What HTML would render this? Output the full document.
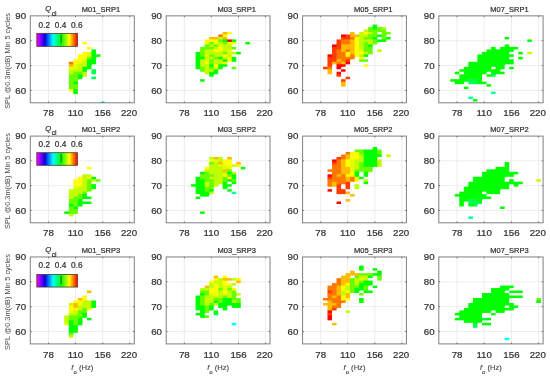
<!DOCTYPE html><html><head><meta charset="utf-8"><title>fig</title><style>html,body{margin:0;padding:0;background:#fff}svg{display:block}text{font-family:"Liberation Sans",Arial,sans-serif;fill:#303030;stroke:#303030;stroke-width:0.22px}</style></head><body>
<svg width="550" height="378" viewBox="0 0 550 378">
<defs><linearGradient id="cb" x1="0" x2="1" y1="0" y2="0">
<stop offset="0.00" stop-color="#ff00ff"/>
<stop offset="0.10" stop-color="#7f00ff"/>
<stop offset="0.20" stop-color="#0000ff"/>
<stop offset="0.30" stop-color="#007fff"/>
<stop offset="0.40" stop-color="#00ffff"/>
<stop offset="0.50" stop-color="#00ff7f"/>
<stop offset="0.60" stop-color="#00ff00"/>
<stop offset="0.70" stop-color="#7fff00"/>
<stop offset="0.80" stop-color="#ffff00"/>
<stop offset="0.90" stop-color="#ff7f00"/>
<stop offset="1.00" stop-color="#ff0000"/>
</linearGradient></defs>
<rect width="550" height="378" fill="#fff"/>
<g>
<line x1="48.48" y1="15.85" x2="48.48" y2="102.80" stroke="#e5e5e5" stroke-width="0.7"/>
<line x1="75.52" y1="15.85" x2="75.52" y2="102.80" stroke="#e5e5e5" stroke-width="0.7"/>
<line x1="102.74" y1="15.85" x2="102.74" y2="102.80" stroke="#e5e5e5" stroke-width="0.7"/>
<line x1="129.78" y1="15.85" x2="129.78" y2="102.80" stroke="#e5e5e5" stroke-width="0.7"/>
<line x1="30.30" y1="40.69" x2="134.30" y2="40.69" stroke="#e5e5e5" stroke-width="0.7"/>
<line x1="30.30" y1="65.54" x2="134.30" y2="65.54" stroke="#e5e5e5" stroke-width="0.7"/>
<line x1="30.30" y1="90.38" x2="134.30" y2="90.38" stroke="#e5e5e5" stroke-width="0.7"/>
<g shape-rendering="auto">
<rect x="82.40" y="41.94" width="4.52" height="2.48" fill="#ffff00"/>
<rect x="86.92" y="46.90" width="4.52" height="2.48" fill="#ffff00"/>
<rect x="91.44" y="49.39" width="4.52" height="3.08" fill="#00ff00"/>
<rect x="82.40" y="51.87" width="5.12" height="3.08" fill="#ffff00"/>
<rect x="86.92" y="51.87" width="5.12" height="3.08" fill="#e1ff00"/>
<rect x="91.44" y="51.87" width="4.52" height="3.08" fill="#00ff00"/>
<rect x="77.88" y="54.36" width="5.12" height="3.08" fill="#ffff00"/>
<rect x="82.40" y="54.36" width="5.12" height="3.08" fill="#ffff00"/>
<rect x="86.92" y="54.36" width="5.12" height="3.08" fill="#e1ff00"/>
<rect x="91.44" y="54.36" width="5.12" height="3.08" fill="#00ff00"/>
<rect x="95.97" y="54.36" width="4.52" height="2.48" fill="#00ff00"/>
<rect x="77.88" y="56.84" width="5.12" height="3.08" fill="#ffff00"/>
<rect x="82.40" y="56.84" width="5.12" height="3.08" fill="#ffff00"/>
<rect x="86.92" y="56.84" width="5.12" height="3.08" fill="#65ff00"/>
<rect x="91.44" y="56.84" width="4.52" height="3.08" fill="#00ff00"/>
<rect x="73.36" y="59.33" width="5.12" height="3.08" fill="#ffff00"/>
<rect x="77.88" y="59.33" width="5.12" height="3.08" fill="#ffff00"/>
<rect x="82.40" y="59.33" width="5.12" height="3.08" fill="#e1ff00"/>
<rect x="86.92" y="59.33" width="5.12" height="3.08" fill="#00ff00"/>
<rect x="91.44" y="59.33" width="4.52" height="3.08" fill="#00ff00"/>
<rect x="68.83" y="61.81" width="5.12" height="3.08" fill="#ff7700"/>
<rect x="73.36" y="61.81" width="5.12" height="3.08" fill="#ffff00"/>
<rect x="77.88" y="61.81" width="5.12" height="3.08" fill="#e1ff00"/>
<rect x="82.40" y="61.81" width="5.12" height="3.08" fill="#bfff00"/>
<rect x="86.92" y="61.81" width="5.12" height="3.08" fill="#00ff00"/>
<rect x="91.44" y="61.81" width="4.52" height="2.48" fill="#00ff00"/>
<rect x="68.83" y="64.29" width="5.12" height="3.08" fill="#ffbb00"/>
<rect x="73.36" y="64.29" width="5.12" height="3.08" fill="#e1ff00"/>
<rect x="77.88" y="64.29" width="5.12" height="3.08" fill="#bfff00"/>
<rect x="82.40" y="64.29" width="5.12" height="3.08" fill="#bfff00"/>
<rect x="86.92" y="64.29" width="4.52" height="3.08" fill="#00ff00"/>
<rect x="68.83" y="66.78" width="5.12" height="3.08" fill="#e1ff00"/>
<rect x="73.36" y="66.78" width="5.12" height="3.08" fill="#e1ff00"/>
<rect x="77.88" y="66.78" width="5.12" height="3.08" fill="#bfff00"/>
<rect x="82.40" y="66.78" width="5.12" height="3.08" fill="#00ff00"/>
<rect x="86.92" y="66.78" width="4.52" height="2.48" fill="#00ff00"/>
<rect x="68.83" y="69.26" width="5.12" height="3.08" fill="#bfff00"/>
<rect x="73.36" y="69.26" width="5.12" height="3.08" fill="#bfff00"/>
<rect x="77.88" y="69.26" width="5.12" height="3.08" fill="#bfff00"/>
<rect x="82.40" y="69.26" width="4.52" height="3.08" fill="#00ff00"/>
<rect x="91.44" y="69.26" width="4.52" height="3.08" fill="#00ff4c"/>
<rect x="68.83" y="71.75" width="5.12" height="3.08" fill="#bfff00"/>
<rect x="73.36" y="71.75" width="5.12" height="3.08" fill="#65ff00"/>
<rect x="77.88" y="71.75" width="5.12" height="3.08" fill="#65ff00"/>
<rect x="82.40" y="71.75" width="4.52" height="3.08" fill="#bfff00"/>
<rect x="91.44" y="71.75" width="4.52" height="2.48" fill="#00ff4c"/>
<rect x="68.83" y="74.23" width="5.12" height="3.08" fill="#65ff00"/>
<rect x="73.36" y="74.23" width="5.12" height="3.08" fill="#65ff00"/>
<rect x="77.88" y="74.23" width="5.12" height="3.08" fill="#00ff00"/>
<rect x="82.40" y="74.23" width="4.52" height="2.48" fill="#bfff00"/>
<rect x="68.83" y="76.72" width="5.12" height="3.08" fill="#65ff00"/>
<rect x="73.36" y="76.72" width="5.12" height="3.08" fill="#65ff00"/>
<rect x="77.88" y="76.72" width="4.52" height="2.48" fill="#00ff00"/>
<rect x="91.44" y="76.72" width="4.52" height="2.48" fill="#00ff4c"/>
<rect x="68.83" y="79.20" width="5.12" height="3.08" fill="#65ff00"/>
<rect x="73.36" y="79.20" width="4.52" height="3.08" fill="#65ff00"/>
<rect x="68.83" y="81.68" width="5.12" height="3.08" fill="#65ff00"/>
<rect x="73.36" y="81.68" width="4.52" height="3.08" fill="#00ff00"/>
<rect x="68.83" y="84.17" width="5.12" height="3.08" fill="#65ff00"/>
<rect x="73.36" y="84.17" width="4.52" height="3.08" fill="#65ff00"/>
<rect x="68.83" y="86.65" width="5.12" height="3.08" fill="#65ff00"/>
<rect x="73.36" y="86.65" width="4.52" height="3.08" fill="#65ff00"/>
<rect x="68.83" y="89.14" width="5.12" height="2.48" fill="#ffff00"/>
<rect x="73.36" y="89.14" width="4.52" height="3.08" fill="#00ff00"/>
<rect x="73.36" y="91.62" width="4.52" height="2.48" fill="#00ff00"/>
<rect x="100.49" y="101.56" width="4.52" height="1.24" fill="#00ffff"/>
</g>
<rect x="30.30" y="15.85" width="104.00" height="86.95" fill="none" stroke="#808080" stroke-width="1.0"/>
<line x1="48.48" y1="102.80" x2="48.48" y2="101.50" stroke="#444" stroke-width="0.7"/>
<line x1="48.48" y1="15.85" x2="48.48" y2="17.15" stroke="#444" stroke-width="0.7"/>
<text x="48.48" y="116.40" font-size="9.7" text-anchor="middle">78</text>
<line x1="75.52" y1="102.80" x2="75.52" y2="101.50" stroke="#444" stroke-width="0.7"/>
<line x1="75.52" y1="15.85" x2="75.52" y2="17.15" stroke="#444" stroke-width="0.7"/>
<text x="75.52" y="116.40" font-size="9.7" text-anchor="middle">110</text>
<line x1="102.74" y1="102.80" x2="102.74" y2="101.50" stroke="#444" stroke-width="0.7"/>
<line x1="102.74" y1="15.85" x2="102.74" y2="17.15" stroke="#444" stroke-width="0.7"/>
<text x="102.74" y="116.40" font-size="9.7" text-anchor="middle">156</text>
<line x1="129.78" y1="102.80" x2="129.78" y2="101.50" stroke="#444" stroke-width="0.7"/>
<line x1="129.78" y1="15.85" x2="129.78" y2="17.15" stroke="#444" stroke-width="0.7"/>
<text x="128.98" y="116.40" font-size="9.7" text-anchor="middle">220</text>
<text x="26.10" y="19.10" font-size="9.7" text-anchor="end">90</text>
<line x1="30.30" y1="40.69" x2="31.60" y2="40.69" stroke="#444" stroke-width="0.7"/>
<line x1="134.30" y1="40.69" x2="133.00" y2="40.69" stroke="#444" stroke-width="0.7"/>
<text x="26.10" y="43.94" font-size="9.7" text-anchor="end">80</text>
<line x1="30.30" y1="65.54" x2="31.60" y2="65.54" stroke="#444" stroke-width="0.7"/>
<line x1="134.30" y1="65.54" x2="133.00" y2="65.54" stroke="#444" stroke-width="0.7"/>
<text x="26.10" y="68.79" font-size="9.7" text-anchor="end">70</text>
<line x1="30.30" y1="90.38" x2="31.60" y2="90.38" stroke="#444" stroke-width="0.7"/>
<line x1="134.30" y1="90.38" x2="133.00" y2="90.38" stroke="#444" stroke-width="0.7"/>
<text x="26.10" y="93.63" font-size="9.7" text-anchor="end">60</text>
<text x="100.90" y="12.00" font-size="7.5" text-anchor="middle">M01_SRP1</text>
<rect x="36.80" y="33.35" width="40.60" height="13.00" fill="url(#cb)" stroke="#4a3a2a" stroke-width="0.8"/>
<line x1="44.92" y1="34.85" x2="44.92" y2="42.85" stroke="#222" stroke-width="0.7"/>
<text x="44.32" y="27.55" font-size="8.2" text-anchor="middle">0.2</text>
<line x1="61.16" y1="34.85" x2="61.16" y2="42.85" stroke="#222" stroke-width="0.7"/>
<text x="60.56" y="27.55" font-size="8.2" text-anchor="middle">0.4</text>
<text x="76.80" y="27.55" font-size="8.2" text-anchor="middle">0.6</text>
<text x="45.30" y="11.00" font-size="7.7" font-style="italic">Q<tspan font-size="6.8" font-style="normal" dx="0.4" dy="5.0">ci</tspan></text>
<text transform="translate(10.20 60.93) rotate(-90)" font-size="7.35" text-anchor="middle" style="fill:#4a4a4a;stroke:none">SPL @0.3m(dB) Min 5 cycles</text>
</g>
<g>
<line x1="184.34" y1="15.85" x2="184.34" y2="102.80" stroke="#e5e5e5" stroke-width="0.7"/>
<line x1="211.33" y1="15.85" x2="211.33" y2="102.80" stroke="#e5e5e5" stroke-width="0.7"/>
<line x1="238.50" y1="15.85" x2="238.50" y2="102.80" stroke="#e5e5e5" stroke-width="0.7"/>
<line x1="265.49" y1="15.85" x2="265.49" y2="102.80" stroke="#e5e5e5" stroke-width="0.7"/>
<line x1="166.20" y1="40.69" x2="270.00" y2="40.69" stroke="#e5e5e5" stroke-width="0.7"/>
<line x1="166.20" y1="65.54" x2="270.00" y2="65.54" stroke="#e5e5e5" stroke-width="0.7"/>
<line x1="166.20" y1="90.38" x2="270.00" y2="90.38" stroke="#e5e5e5" stroke-width="0.7"/>
<g shape-rendering="auto">
<rect x="222.71" y="32.00" width="5.11" height="3.08" fill="#ffbb00"/>
<rect x="227.23" y="32.00" width="4.51" height="2.48" fill="#ffff00"/>
<rect x="218.20" y="34.48" width="5.11" height="3.08" fill="#ff7700"/>
<rect x="222.71" y="34.48" width="4.51" height="3.08" fill="#ffff00"/>
<rect x="209.17" y="36.97" width="5.11" height="3.08" fill="#ffbb00"/>
<rect x="213.69" y="36.97" width="5.11" height="3.08" fill="#ffbb00"/>
<rect x="218.20" y="36.97" width="5.11" height="3.08" fill="#bfff00"/>
<rect x="222.71" y="36.97" width="4.51" height="3.08" fill="#ffbb00"/>
<rect x="204.66" y="39.45" width="5.11" height="3.08" fill="#ffff00"/>
<rect x="209.17" y="39.45" width="5.11" height="3.08" fill="#ffff00"/>
<rect x="213.69" y="39.45" width="5.11" height="3.08" fill="#ffff00"/>
<rect x="218.20" y="39.45" width="5.11" height="3.08" fill="#65ff00"/>
<rect x="222.71" y="39.45" width="5.11" height="3.08" fill="#00ff00"/>
<rect x="227.23" y="39.45" width="5.11" height="3.08" fill="#ff0000"/>
<rect x="231.74" y="39.45" width="4.51" height="3.08" fill="#00ff00"/>
<rect x="204.66" y="41.94" width="5.11" height="3.08" fill="#ffff00"/>
<rect x="209.17" y="41.94" width="5.11" height="3.08" fill="#65ff00"/>
<rect x="213.69" y="41.94" width="5.11" height="3.08" fill="#ffff00"/>
<rect x="218.20" y="41.94" width="5.11" height="3.08" fill="#bfff00"/>
<rect x="222.71" y="41.94" width="5.11" height="3.08" fill="#65ff00"/>
<rect x="227.23" y="41.94" width="5.11" height="3.08" fill="#ffff00"/>
<rect x="231.74" y="41.94" width="4.51" height="2.48" fill="#ffff00"/>
<rect x="245.28" y="41.94" width="4.51" height="2.48" fill="#00ff00"/>
<rect x="204.66" y="44.42" width="5.11" height="3.08" fill="#65ff00"/>
<rect x="209.17" y="44.42" width="5.11" height="3.08" fill="#bfff00"/>
<rect x="213.69" y="44.42" width="5.11" height="3.08" fill="#65ff00"/>
<rect x="218.20" y="44.42" width="5.11" height="3.08" fill="#e1ff00"/>
<rect x="222.71" y="44.42" width="5.11" height="3.08" fill="#bfff00"/>
<rect x="227.23" y="44.42" width="4.51" height="3.08" fill="#bfff00"/>
<rect x="200.15" y="46.90" width="5.11" height="3.08" fill="#65ff00"/>
<rect x="204.66" y="46.90" width="5.11" height="3.08" fill="#65ff00"/>
<rect x="209.17" y="46.90" width="5.11" height="3.08" fill="#65ff00"/>
<rect x="213.69" y="46.90" width="5.11" height="3.08" fill="#bfff00"/>
<rect x="218.20" y="46.90" width="5.11" height="3.08" fill="#ffff00"/>
<rect x="222.71" y="46.90" width="5.11" height="3.08" fill="#bfff00"/>
<rect x="227.23" y="46.90" width="5.11" height="3.08" fill="#bfff00"/>
<rect x="231.74" y="46.90" width="4.51" height="2.48" fill="#65ff00"/>
<rect x="200.15" y="49.39" width="5.11" height="3.08" fill="#65ff00"/>
<rect x="204.66" y="49.39" width="5.11" height="3.08" fill="#bfff00"/>
<rect x="209.17" y="49.39" width="5.11" height="3.08" fill="#bfff00"/>
<rect x="213.69" y="49.39" width="5.11" height="3.08" fill="#ffff00"/>
<rect x="218.20" y="49.39" width="5.11" height="3.08" fill="#ffff00"/>
<rect x="222.71" y="49.39" width="5.11" height="3.08" fill="#bfff00"/>
<rect x="227.23" y="49.39" width="4.51" height="3.08" fill="#e1ff00"/>
<rect x="195.63" y="51.87" width="5.11" height="3.08" fill="#00ff00"/>
<rect x="200.15" y="51.87" width="5.11" height="3.08" fill="#65ff00"/>
<rect x="204.66" y="51.87" width="5.11" height="3.08" fill="#bfff00"/>
<rect x="209.17" y="51.87" width="5.11" height="3.08" fill="#bfff00"/>
<rect x="213.69" y="51.87" width="5.11" height="3.08" fill="#bfff00"/>
<rect x="218.20" y="51.87" width="5.11" height="3.08" fill="#bfff00"/>
<rect x="222.71" y="51.87" width="5.11" height="3.08" fill="#65ff00"/>
<rect x="227.23" y="51.87" width="5.11" height="3.08" fill="#e1ff00"/>
<rect x="231.74" y="51.87" width="5.11" height="2.48" fill="#bfff00"/>
<rect x="236.25" y="51.87" width="4.51" height="2.48" fill="#00ff00"/>
<rect x="195.63" y="54.36" width="5.11" height="3.08" fill="#00ff00"/>
<rect x="200.15" y="54.36" width="5.11" height="3.08" fill="#65ff00"/>
<rect x="204.66" y="54.36" width="5.11" height="3.08" fill="#e1ff00"/>
<rect x="209.17" y="54.36" width="5.11" height="3.08" fill="#65ff00"/>
<rect x="213.69" y="54.36" width="5.11" height="3.08" fill="#bfff00"/>
<rect x="218.20" y="54.36" width="5.11" height="3.08" fill="#bfff00"/>
<rect x="222.71" y="54.36" width="5.11" height="3.08" fill="#ffff00"/>
<rect x="227.23" y="54.36" width="4.51" height="3.08" fill="#bfff00"/>
<rect x="195.63" y="56.84" width="5.11" height="3.08" fill="#00ff00"/>
<rect x="200.15" y="56.84" width="5.11" height="3.08" fill="#00ff00"/>
<rect x="204.66" y="56.84" width="5.11" height="3.08" fill="#bfff00"/>
<rect x="209.17" y="56.84" width="5.11" height="3.08" fill="#bfff00"/>
<rect x="213.69" y="56.84" width="5.11" height="3.08" fill="#65ff00"/>
<rect x="218.20" y="56.84" width="5.11" height="3.08" fill="#00ff00"/>
<rect x="222.71" y="56.84" width="5.11" height="3.08" fill="#bfff00"/>
<rect x="227.23" y="56.84" width="5.11" height="3.08" fill="#ffff00"/>
<rect x="231.74" y="56.84" width="4.51" height="3.08" fill="#00ff00"/>
<rect x="195.63" y="59.33" width="5.11" height="3.08" fill="#00ff00"/>
<rect x="200.15" y="59.33" width="5.11" height="3.08" fill="#bfff00"/>
<rect x="204.66" y="59.33" width="5.11" height="3.08" fill="#e1ff00"/>
<rect x="209.17" y="59.33" width="5.11" height="3.08" fill="#65ff00"/>
<rect x="213.69" y="59.33" width="5.11" height="3.08" fill="#bfff00"/>
<rect x="218.20" y="59.33" width="5.11" height="3.08" fill="#bfff00"/>
<rect x="222.71" y="59.33" width="5.11" height="3.08" fill="#00ff00"/>
<rect x="227.23" y="59.33" width="5.11" height="2.48" fill="#ffff00"/>
<rect x="231.74" y="59.33" width="4.51" height="2.48" fill="#00ff00"/>
<rect x="195.63" y="61.81" width="5.11" height="3.08" fill="#00ff00"/>
<rect x="200.15" y="61.81" width="5.11" height="3.08" fill="#bfff00"/>
<rect x="204.66" y="61.81" width="5.11" height="3.08" fill="#ffff00"/>
<rect x="209.17" y="61.81" width="5.11" height="3.08" fill="#65ff00"/>
<rect x="213.69" y="61.81" width="5.11" height="3.08" fill="#bfff00"/>
<rect x="218.20" y="61.81" width="5.11" height="3.08" fill="#bfff00"/>
<rect x="222.71" y="61.81" width="4.51" height="3.08" fill="#ffff00"/>
<rect x="195.63" y="64.29" width="5.11" height="3.08" fill="#00ff00"/>
<rect x="200.15" y="64.29" width="5.11" height="3.08" fill="#bfff00"/>
<rect x="204.66" y="64.29" width="5.11" height="3.08" fill="#bfff00"/>
<rect x="209.17" y="64.29" width="5.11" height="3.08" fill="#00ff00"/>
<rect x="213.69" y="64.29" width="5.11" height="3.08" fill="#ffff00"/>
<rect x="218.20" y="64.29" width="5.11" height="3.08" fill="#00ff00"/>
<rect x="222.71" y="64.29" width="4.51" height="2.48" fill="#00ff00"/>
<rect x="195.63" y="66.78" width="5.11" height="2.48" fill="#00ff00"/>
<rect x="200.15" y="66.78" width="5.11" height="3.08" fill="#65ff00"/>
<rect x="204.66" y="66.78" width="5.11" height="3.08" fill="#bfff00"/>
<rect x="209.17" y="66.78" width="5.11" height="3.08" fill="#65ff00"/>
<rect x="213.69" y="66.78" width="5.11" height="3.08" fill="#e1ff00"/>
<rect x="218.20" y="66.78" width="4.51" height="2.48" fill="#00ff00"/>
<rect x="231.74" y="66.78" width="4.51" height="2.48" fill="#65ff00"/>
<rect x="200.15" y="69.26" width="5.11" height="2.48" fill="#65ff00"/>
<rect x="204.66" y="69.26" width="5.11" height="3.08" fill="#bfff00"/>
<rect x="209.17" y="69.26" width="5.11" height="3.08" fill="#bfff00"/>
<rect x="213.69" y="69.26" width="4.51" height="3.08" fill="#00ff00"/>
<rect x="204.66" y="71.75" width="5.11" height="2.48" fill="#bfff00"/>
<rect x="209.17" y="71.75" width="5.11" height="3.08" fill="#00ff00"/>
<rect x="213.69" y="71.75" width="4.51" height="2.48" fill="#00ff00"/>
<rect x="209.17" y="74.23" width="4.51" height="2.48" fill="#00ff00"/>
<rect x="200.15" y="79.20" width="4.51" height="2.48" fill="#00ff00"/>
</g>
<rect x="166.20" y="15.85" width="103.80" height="86.95" fill="none" stroke="#808080" stroke-width="1.0"/>
<line x1="184.34" y1="102.80" x2="184.34" y2="101.50" stroke="#444" stroke-width="0.7"/>
<line x1="184.34" y1="15.85" x2="184.34" y2="17.15" stroke="#444" stroke-width="0.7"/>
<text x="184.34" y="116.40" font-size="9.7" text-anchor="middle">78</text>
<line x1="211.33" y1="102.80" x2="211.33" y2="101.50" stroke="#444" stroke-width="0.7"/>
<line x1="211.33" y1="15.85" x2="211.33" y2="17.15" stroke="#444" stroke-width="0.7"/>
<text x="211.33" y="116.40" font-size="9.7" text-anchor="middle">110</text>
<line x1="238.50" y1="102.80" x2="238.50" y2="101.50" stroke="#444" stroke-width="0.7"/>
<line x1="238.50" y1="15.85" x2="238.50" y2="17.15" stroke="#444" stroke-width="0.7"/>
<text x="238.50" y="116.40" font-size="9.7" text-anchor="middle">156</text>
<line x1="265.49" y1="102.80" x2="265.49" y2="101.50" stroke="#444" stroke-width="0.7"/>
<line x1="265.49" y1="15.85" x2="265.49" y2="17.15" stroke="#444" stroke-width="0.7"/>
<text x="264.69" y="116.40" font-size="9.7" text-anchor="middle">220</text>
<text x="162.00" y="19.10" font-size="9.7" text-anchor="end">90</text>
<line x1="166.20" y1="40.69" x2="167.50" y2="40.69" stroke="#444" stroke-width="0.7"/>
<line x1="270.00" y1="40.69" x2="268.70" y2="40.69" stroke="#444" stroke-width="0.7"/>
<text x="162.00" y="43.94" font-size="9.7" text-anchor="end">80</text>
<line x1="166.20" y1="65.54" x2="167.50" y2="65.54" stroke="#444" stroke-width="0.7"/>
<line x1="270.00" y1="65.54" x2="268.70" y2="65.54" stroke="#444" stroke-width="0.7"/>
<text x="162.00" y="68.79" font-size="9.7" text-anchor="end">70</text>
<line x1="166.20" y1="90.38" x2="167.50" y2="90.38" stroke="#444" stroke-width="0.7"/>
<line x1="270.00" y1="90.38" x2="268.70" y2="90.38" stroke="#444" stroke-width="0.7"/>
<text x="162.00" y="93.63" font-size="9.7" text-anchor="end">60</text>
<text x="236.80" y="12.00" font-size="7.5" text-anchor="middle">M03_SRP1</text>
</g>
<g>
<line x1="320.74" y1="15.85" x2="320.74" y2="102.80" stroke="#e5e5e5" stroke-width="0.7"/>
<line x1="347.73" y1="15.85" x2="347.73" y2="102.80" stroke="#e5e5e5" stroke-width="0.7"/>
<line x1="374.90" y1="15.85" x2="374.90" y2="102.80" stroke="#e5e5e5" stroke-width="0.7"/>
<line x1="401.89" y1="15.85" x2="401.89" y2="102.80" stroke="#e5e5e5" stroke-width="0.7"/>
<line x1="302.60" y1="40.69" x2="406.40" y2="40.69" stroke="#e5e5e5" stroke-width="0.7"/>
<line x1="302.60" y1="65.54" x2="406.40" y2="65.54" stroke="#e5e5e5" stroke-width="0.7"/>
<line x1="302.60" y1="90.38" x2="406.40" y2="90.38" stroke="#e5e5e5" stroke-width="0.7"/>
<g shape-rendering="auto">
<rect x="372.65" y="24.55" width="4.51" height="3.08" fill="#00ff00"/>
<rect x="368.14" y="27.03" width="5.11" height="3.08" fill="#65ff00"/>
<rect x="372.65" y="27.03" width="5.11" height="3.08" fill="#00ff00"/>
<rect x="377.17" y="27.03" width="5.11" height="3.08" fill="#65ff00"/>
<rect x="381.68" y="27.03" width="4.51" height="3.08" fill="#bfff00"/>
<rect x="363.63" y="29.51" width="5.11" height="3.08" fill="#bfff00"/>
<rect x="368.14" y="29.51" width="5.11" height="3.08" fill="#65ff00"/>
<rect x="372.65" y="29.51" width="5.11" height="3.08" fill="#65ff00"/>
<rect x="377.17" y="29.51" width="5.11" height="2.48" fill="#65ff00"/>
<rect x="381.68" y="29.51" width="4.51" height="3.08" fill="#65ff00"/>
<rect x="350.09" y="32.00" width="4.51" height="3.08" fill="#ffbb00"/>
<rect x="359.11" y="32.00" width="5.11" height="3.08" fill="#bfff00"/>
<rect x="363.63" y="32.00" width="5.11" height="3.08" fill="#ffff00"/>
<rect x="368.14" y="32.00" width="5.11" height="3.08" fill="#bfff00"/>
<rect x="372.65" y="32.00" width="4.51" height="3.08" fill="#65ff00"/>
<rect x="381.68" y="32.00" width="5.11" height="3.08" fill="#65ff00"/>
<rect x="386.19" y="32.00" width="4.51" height="2.48" fill="#65ff00"/>
<rect x="341.06" y="34.48" width="5.11" height="3.08" fill="#ff0000"/>
<rect x="345.57" y="34.48" width="5.11" height="3.08" fill="#ff3b00"/>
<rect x="350.09" y="34.48" width="5.11" height="3.08" fill="#ffbb00"/>
<rect x="354.60" y="34.48" width="5.11" height="3.08" fill="#ffbb00"/>
<rect x="359.11" y="34.48" width="5.11" height="3.08" fill="#bfff00"/>
<rect x="363.63" y="34.48" width="5.11" height="3.08" fill="#bfff00"/>
<rect x="368.14" y="34.48" width="5.11" height="3.08" fill="#65ff00"/>
<rect x="372.65" y="34.48" width="5.11" height="3.08" fill="#65ff00"/>
<rect x="377.17" y="34.48" width="5.11" height="2.48" fill="#00ff00"/>
<rect x="381.68" y="34.48" width="4.51" height="3.08" fill="#65ff00"/>
<rect x="341.06" y="36.97" width="5.11" height="3.08" fill="#ff3b00"/>
<rect x="345.57" y="36.97" width="5.11" height="3.08" fill="#ff3b00"/>
<rect x="350.09" y="36.97" width="5.11" height="3.08" fill="#ff7700"/>
<rect x="354.60" y="36.97" width="5.11" height="3.08" fill="#ffff00"/>
<rect x="359.11" y="36.97" width="5.11" height="3.08" fill="#bfff00"/>
<rect x="363.63" y="36.97" width="5.11" height="3.08" fill="#65ff00"/>
<rect x="368.14" y="36.97" width="5.11" height="3.08" fill="#65ff00"/>
<rect x="372.65" y="36.97" width="4.51" height="3.08" fill="#00ff00"/>
<rect x="381.68" y="36.97" width="5.11" height="3.08" fill="#65ff00"/>
<rect x="386.19" y="36.97" width="4.51" height="2.48" fill="#00ff00"/>
<rect x="336.55" y="39.45" width="5.11" height="3.08" fill="#ff3b00"/>
<rect x="341.06" y="39.45" width="5.11" height="3.08" fill="#ff7700"/>
<rect x="345.57" y="39.45" width="5.11" height="3.08" fill="#ff7700"/>
<rect x="350.09" y="39.45" width="5.11" height="3.08" fill="#ffbb00"/>
<rect x="354.60" y="39.45" width="5.11" height="3.08" fill="#ffff00"/>
<rect x="359.11" y="39.45" width="5.11" height="3.08" fill="#bfff00"/>
<rect x="363.63" y="39.45" width="5.11" height="3.08" fill="#bfff00"/>
<rect x="368.14" y="39.45" width="5.11" height="3.08" fill="#bfff00"/>
<rect x="372.65" y="39.45" width="5.11" height="3.08" fill="#65ff00"/>
<rect x="377.17" y="39.45" width="5.11" height="2.48" fill="#00ff00"/>
<rect x="381.68" y="39.45" width="4.51" height="2.48" fill="#00ff00"/>
<rect x="336.55" y="41.94" width="5.11" height="3.08" fill="#ff3b00"/>
<rect x="341.06" y="41.94" width="5.11" height="3.08" fill="#ff7700"/>
<rect x="345.57" y="41.94" width="5.11" height="3.08" fill="#ff7700"/>
<rect x="350.09" y="41.94" width="5.11" height="3.08" fill="#ffbb00"/>
<rect x="354.60" y="41.94" width="5.11" height="3.08" fill="#ffff00"/>
<rect x="359.11" y="41.94" width="5.11" height="3.08" fill="#bfff00"/>
<rect x="363.63" y="41.94" width="5.11" height="3.08" fill="#65ff00"/>
<rect x="368.14" y="41.94" width="5.11" height="3.08" fill="#bfff00"/>
<rect x="372.65" y="41.94" width="4.51" height="2.48" fill="#65ff00"/>
<rect x="332.03" y="44.42" width="5.11" height="3.08" fill="#ff0000"/>
<rect x="336.55" y="44.42" width="5.11" height="3.08" fill="#ff3b00"/>
<rect x="341.06" y="44.42" width="5.11" height="3.08" fill="#ffbb00"/>
<rect x="345.57" y="44.42" width="5.11" height="3.08" fill="#ffbb00"/>
<rect x="350.09" y="44.42" width="5.11" height="3.08" fill="#ffbb00"/>
<rect x="354.60" y="44.42" width="5.11" height="3.08" fill="#ffff00"/>
<rect x="359.11" y="44.42" width="5.11" height="3.08" fill="#bfff00"/>
<rect x="363.63" y="44.42" width="5.11" height="3.08" fill="#65ff00"/>
<rect x="368.14" y="44.42" width="4.51" height="3.08" fill="#00ff00"/>
<rect x="332.03" y="46.90" width="5.11" height="3.08" fill="#ff3b00"/>
<rect x="336.55" y="46.90" width="5.11" height="3.08" fill="#ff3b00"/>
<rect x="341.06" y="46.90" width="5.11" height="3.08" fill="#ffbb00"/>
<rect x="345.57" y="46.90" width="5.11" height="3.08" fill="#ffbb00"/>
<rect x="350.09" y="46.90" width="5.11" height="3.08" fill="#ffbb00"/>
<rect x="354.60" y="46.90" width="5.11" height="3.08" fill="#ffff00"/>
<rect x="359.11" y="46.90" width="5.11" height="3.08" fill="#bfff00"/>
<rect x="363.63" y="46.90" width="5.11" height="3.08" fill="#65ff00"/>
<rect x="368.14" y="46.90" width="4.51" height="3.08" fill="#65ff00"/>
<rect x="332.03" y="49.39" width="5.11" height="3.08" fill="#ff3b00"/>
<rect x="336.55" y="49.39" width="5.11" height="3.08" fill="#ff7700"/>
<rect x="341.06" y="49.39" width="5.11" height="3.08" fill="#ffbb00"/>
<rect x="345.57" y="49.39" width="5.11" height="3.08" fill="#ff7700"/>
<rect x="350.09" y="49.39" width="5.11" height="3.08" fill="#ffbb00"/>
<rect x="354.60" y="49.39" width="5.11" height="3.08" fill="#ffff00"/>
<rect x="359.11" y="49.39" width="5.11" height="3.08" fill="#e1ff00"/>
<rect x="363.63" y="49.39" width="5.11" height="3.08" fill="#65ff00"/>
<rect x="368.14" y="49.39" width="4.51" height="3.08" fill="#65ff00"/>
<rect x="377.17" y="49.39" width="4.51" height="2.48" fill="#bfff00"/>
<rect x="332.03" y="51.87" width="5.11" height="3.08" fill="#ff3b00"/>
<rect x="336.55" y="51.87" width="5.11" height="3.08" fill="#ff7700"/>
<rect x="341.06" y="51.87" width="5.11" height="3.08" fill="#ff7700"/>
<rect x="345.57" y="51.87" width="5.11" height="3.08" fill="#ffff00"/>
<rect x="350.09" y="51.87" width="5.11" height="3.08" fill="#ffbb00"/>
<rect x="354.60" y="51.87" width="5.11" height="3.08" fill="#ffff00"/>
<rect x="359.11" y="51.87" width="5.11" height="3.08" fill="#ffff00"/>
<rect x="363.63" y="51.87" width="5.11" height="3.08" fill="#bfff00"/>
<rect x="368.14" y="51.87" width="4.51" height="2.48" fill="#65ff00"/>
<rect x="327.52" y="54.36" width="5.11" height="3.08" fill="#ff0000"/>
<rect x="332.03" y="54.36" width="5.11" height="3.08" fill="#ff3b00"/>
<rect x="336.55" y="54.36" width="5.11" height="3.08" fill="#ff7700"/>
<rect x="341.06" y="54.36" width="5.11" height="3.08" fill="#ff7700"/>
<rect x="345.57" y="54.36" width="5.11" height="3.08" fill="#ffff00"/>
<rect x="350.09" y="54.36" width="5.11" height="3.08" fill="#ff7700"/>
<rect x="354.60" y="54.36" width="5.11" height="2.48" fill="#ffff00"/>
<rect x="359.11" y="54.36" width="5.11" height="3.08" fill="#bfff00"/>
<rect x="363.63" y="54.36" width="4.51" height="2.48" fill="#00ff00"/>
<rect x="327.52" y="56.84" width="5.11" height="3.08" fill="#ff3b00"/>
<rect x="332.03" y="56.84" width="5.11" height="3.08" fill="#ff3b00"/>
<rect x="336.55" y="56.84" width="5.11" height="3.08" fill="#ff7700"/>
<rect x="341.06" y="56.84" width="5.11" height="3.08" fill="#ff7700"/>
<rect x="345.57" y="56.84" width="5.11" height="3.08" fill="#ff7700"/>
<rect x="350.09" y="56.84" width="4.51" height="2.48" fill="#ff7700"/>
<rect x="359.11" y="56.84" width="4.51" height="3.08" fill="#ffff00"/>
<rect x="327.52" y="59.33" width="5.11" height="3.08" fill="#ff3b00"/>
<rect x="332.03" y="59.33" width="5.11" height="3.08" fill="#ff3b00"/>
<rect x="336.55" y="59.33" width="5.11" height="3.08" fill="#ffbb00"/>
<rect x="341.06" y="59.33" width="5.11" height="3.08" fill="#ff7700"/>
<rect x="345.57" y="59.33" width="4.51" height="3.08" fill="#ff3b00"/>
<rect x="359.11" y="59.33" width="5.11" height="2.48" fill="#65ff00"/>
<rect x="363.63" y="59.33" width="4.51" height="2.48" fill="#65ff00"/>
<rect x="327.52" y="61.81" width="5.11" height="3.08" fill="#ff3b00"/>
<rect x="332.03" y="61.81" width="5.11" height="2.48" fill="#ffbb00"/>
<rect x="336.55" y="61.81" width="5.11" height="3.08" fill="#ff7700"/>
<rect x="341.06" y="61.81" width="5.11" height="3.08" fill="#ffbb00"/>
<rect x="345.57" y="61.81" width="4.51" height="2.48" fill="#ff0000"/>
<rect x="327.52" y="64.29" width="4.51" height="3.08" fill="#ff3b00"/>
<rect x="336.55" y="64.29" width="5.11" height="3.08" fill="#ff0000"/>
<rect x="341.06" y="64.29" width="4.51" height="2.48" fill="#ff0000"/>
<rect x="363.63" y="64.29" width="4.51" height="2.48" fill="#ffff00"/>
<rect x="323.01" y="66.78" width="5.11" height="2.48" fill="#ff3b00"/>
<rect x="327.52" y="66.78" width="4.51" height="3.08" fill="#ff7700"/>
<rect x="336.55" y="66.78" width="4.51" height="2.48" fill="#ff0000"/>
<rect x="327.52" y="69.26" width="4.51" height="3.08" fill="#ffbb00"/>
<rect x="341.06" y="69.26" width="4.51" height="2.48" fill="#ff0000"/>
<rect x="327.52" y="71.75" width="4.51" height="2.48" fill="#ffbb00"/>
<rect x="336.55" y="71.75" width="4.51" height="3.08" fill="#ff0000"/>
<rect x="336.55" y="74.23" width="4.51" height="2.48" fill="#ff3b00"/>
<rect x="345.57" y="76.72" width="4.51" height="2.48" fill="#ff3b00"/>
<rect x="341.06" y="79.20" width="4.51" height="3.08" fill="#ff3b00"/>
<rect x="341.06" y="81.68" width="4.51" height="3.08" fill="#ffbb00"/>
<rect x="341.06" y="84.17" width="4.51" height="2.48" fill="#ffbb00"/>
</g>
<rect x="302.60" y="15.85" width="103.80" height="86.95" fill="none" stroke="#808080" stroke-width="1.0"/>
<line x1="320.74" y1="102.80" x2="320.74" y2="101.50" stroke="#444" stroke-width="0.7"/>
<line x1="320.74" y1="15.85" x2="320.74" y2="17.15" stroke="#444" stroke-width="0.7"/>
<text x="320.74" y="116.40" font-size="9.7" text-anchor="middle">78</text>
<line x1="347.73" y1="102.80" x2="347.73" y2="101.50" stroke="#444" stroke-width="0.7"/>
<line x1="347.73" y1="15.85" x2="347.73" y2="17.15" stroke="#444" stroke-width="0.7"/>
<text x="347.73" y="116.40" font-size="9.7" text-anchor="middle">110</text>
<line x1="374.90" y1="102.80" x2="374.90" y2="101.50" stroke="#444" stroke-width="0.7"/>
<line x1="374.90" y1="15.85" x2="374.90" y2="17.15" stroke="#444" stroke-width="0.7"/>
<text x="374.90" y="116.40" font-size="9.7" text-anchor="middle">156</text>
<line x1="401.89" y1="102.80" x2="401.89" y2="101.50" stroke="#444" stroke-width="0.7"/>
<line x1="401.89" y1="15.85" x2="401.89" y2="17.15" stroke="#444" stroke-width="0.7"/>
<text x="401.09" y="116.40" font-size="9.7" text-anchor="middle">220</text>
<text x="298.40" y="19.10" font-size="9.7" text-anchor="end">90</text>
<line x1="302.60" y1="40.69" x2="303.90" y2="40.69" stroke="#444" stroke-width="0.7"/>
<line x1="406.40" y1="40.69" x2="405.10" y2="40.69" stroke="#444" stroke-width="0.7"/>
<text x="298.40" y="43.94" font-size="9.7" text-anchor="end">80</text>
<line x1="302.60" y1="65.54" x2="303.90" y2="65.54" stroke="#444" stroke-width="0.7"/>
<line x1="406.40" y1="65.54" x2="405.10" y2="65.54" stroke="#444" stroke-width="0.7"/>
<text x="298.40" y="68.79" font-size="9.7" text-anchor="end">70</text>
<line x1="302.60" y1="90.38" x2="303.90" y2="90.38" stroke="#444" stroke-width="0.7"/>
<line x1="406.40" y1="90.38" x2="405.10" y2="90.38" stroke="#444" stroke-width="0.7"/>
<text x="298.40" y="93.63" font-size="9.7" text-anchor="end">60</text>
<text x="373.20" y="12.00" font-size="7.5" text-anchor="middle">M05_SRP1</text>
</g>
<g>
<line x1="457.03" y1="15.85" x2="457.03" y2="102.80" stroke="#e5e5e5" stroke-width="0.7"/>
<line x1="484.15" y1="15.85" x2="484.15" y2="102.80" stroke="#e5e5e5" stroke-width="0.7"/>
<line x1="511.45" y1="15.85" x2="511.45" y2="102.80" stroke="#e5e5e5" stroke-width="0.7"/>
<line x1="538.57" y1="15.85" x2="538.57" y2="102.80" stroke="#e5e5e5" stroke-width="0.7"/>
<line x1="438.80" y1="40.69" x2="543.10" y2="40.69" stroke="#e5e5e5" stroke-width="0.7"/>
<line x1="438.80" y1="65.54" x2="543.10" y2="65.54" stroke="#e5e5e5" stroke-width="0.7"/>
<line x1="438.80" y1="90.38" x2="543.10" y2="90.38" stroke="#e5e5e5" stroke-width="0.7"/>
<g shape-rendering="auto">
<rect x="504.65" y="36.97" width="4.53" height="2.48" fill="#00ff00"/>
<rect x="527.33" y="39.45" width="4.53" height="2.48" fill="#00ff00"/>
<rect x="504.65" y="44.42" width="4.53" height="3.08" fill="#00ff00"/>
<rect x="491.05" y="46.90" width="4.53" height="3.08" fill="#00ff00"/>
<rect x="500.12" y="46.90" width="5.13" height="3.08" fill="#00ff00"/>
<rect x="504.65" y="46.90" width="5.13" height="3.08" fill="#00ff00"/>
<rect x="509.19" y="46.90" width="5.13" height="3.08" fill="#00ff00"/>
<rect x="513.72" y="46.90" width="4.53" height="2.48" fill="#00ff00"/>
<rect x="486.52" y="49.39" width="5.13" height="3.08" fill="#00ff00"/>
<rect x="491.05" y="49.39" width="5.13" height="3.08" fill="#00ff00"/>
<rect x="495.58" y="49.39" width="5.13" height="3.08" fill="#00ff00"/>
<rect x="500.12" y="49.39" width="5.13" height="3.08" fill="#00ff00"/>
<rect x="504.65" y="49.39" width="5.13" height="3.08" fill="#00ff00"/>
<rect x="509.19" y="49.39" width="4.53" height="2.48" fill="#00ff00"/>
<rect x="481.98" y="51.87" width="5.13" height="3.08" fill="#00ff00"/>
<rect x="486.52" y="51.87" width="5.13" height="3.08" fill="#00ff00"/>
<rect x="491.05" y="51.87" width="5.13" height="3.08" fill="#00ff00"/>
<rect x="495.58" y="51.87" width="5.13" height="3.08" fill="#00ff00"/>
<rect x="500.12" y="51.87" width="5.13" height="3.08" fill="#00ff00"/>
<rect x="504.65" y="51.87" width="4.53" height="3.08" fill="#00ff00"/>
<rect x="518.26" y="51.87" width="4.53" height="2.48" fill="#00ff00"/>
<rect x="527.33" y="51.87" width="4.53" height="2.48" fill="#bfff00"/>
<rect x="477.45" y="54.36" width="5.13" height="3.08" fill="#00ff00"/>
<rect x="481.98" y="54.36" width="5.13" height="3.08" fill="#00ff00"/>
<rect x="486.52" y="54.36" width="5.13" height="3.08" fill="#00ff00"/>
<rect x="491.05" y="54.36" width="5.13" height="3.08" fill="#00ff00"/>
<rect x="495.58" y="54.36" width="5.13" height="3.08" fill="#00ff00"/>
<rect x="500.12" y="54.36" width="5.13" height="3.08" fill="#00ff00"/>
<rect x="504.65" y="54.36" width="5.13" height="3.08" fill="#00ff00"/>
<rect x="509.19" y="54.36" width="4.53" height="2.48" fill="#00ff00"/>
<rect x="477.45" y="56.84" width="5.13" height="3.08" fill="#00ff00"/>
<rect x="481.98" y="56.84" width="5.13" height="3.08" fill="#00ff00"/>
<rect x="486.52" y="56.84" width="5.13" height="3.08" fill="#00ff00"/>
<rect x="491.05" y="56.84" width="5.13" height="3.08" fill="#00ff00"/>
<rect x="495.58" y="56.84" width="5.13" height="3.08" fill="#00ff00"/>
<rect x="500.12" y="56.84" width="5.13" height="3.08" fill="#00ff00"/>
<rect x="504.65" y="56.84" width="4.53" height="3.08" fill="#00ff00"/>
<rect x="518.26" y="56.84" width="4.53" height="2.48" fill="#00ff00"/>
<rect x="477.45" y="59.33" width="5.13" height="3.08" fill="#00ff00"/>
<rect x="481.98" y="59.33" width="5.13" height="3.08" fill="#00ff00"/>
<rect x="486.52" y="59.33" width="5.13" height="3.08" fill="#00ff00"/>
<rect x="491.05" y="59.33" width="5.13" height="3.08" fill="#00ff00"/>
<rect x="495.58" y="59.33" width="5.13" height="3.08" fill="#00ff00"/>
<rect x="500.12" y="59.33" width="5.13" height="3.08" fill="#00ff00"/>
<rect x="504.65" y="59.33" width="5.13" height="3.08" fill="#00ff00"/>
<rect x="509.19" y="59.33" width="4.53" height="3.08" fill="#00ff00"/>
<rect x="468.38" y="61.81" width="5.13" height="3.08" fill="#00ff00"/>
<rect x="472.91" y="61.81" width="5.13" height="3.08" fill="#00ff00"/>
<rect x="477.45" y="61.81" width="5.13" height="3.08" fill="#00ff00"/>
<rect x="481.98" y="61.81" width="5.13" height="3.08" fill="#00ff00"/>
<rect x="486.52" y="61.81" width="5.13" height="3.08" fill="#00ff00"/>
<rect x="491.05" y="61.81" width="5.13" height="3.08" fill="#00ff00"/>
<rect x="495.58" y="61.81" width="5.13" height="3.08" fill="#00ff00"/>
<rect x="500.12" y="61.81" width="5.13" height="3.08" fill="#00ff00"/>
<rect x="504.65" y="61.81" width="5.13" height="2.48" fill="#00ff00"/>
<rect x="509.19" y="61.81" width="4.53" height="2.48" fill="#00ff00"/>
<rect x="468.38" y="64.29" width="5.13" height="3.08" fill="#00ff00"/>
<rect x="472.91" y="64.29" width="5.13" height="3.08" fill="#00ff00"/>
<rect x="477.45" y="64.29" width="5.13" height="3.08" fill="#00ff00"/>
<rect x="481.98" y="64.29" width="5.13" height="3.08" fill="#00ff00"/>
<rect x="486.52" y="64.29" width="5.13" height="3.08" fill="#00ff00"/>
<rect x="491.05" y="64.29" width="5.13" height="2.48" fill="#00ff00"/>
<rect x="495.58" y="64.29" width="5.13" height="3.08" fill="#00ff00"/>
<rect x="500.12" y="64.29" width="4.53" height="3.08" fill="#00ff00"/>
<rect x="463.84" y="66.78" width="5.13" height="3.08" fill="#00ff00"/>
<rect x="468.38" y="66.78" width="5.13" height="3.08" fill="#00ff00"/>
<rect x="472.91" y="66.78" width="5.13" height="3.08" fill="#00ff00"/>
<rect x="477.45" y="66.78" width="5.13" height="3.08" fill="#00ff00"/>
<rect x="481.98" y="66.78" width="5.13" height="3.08" fill="#00ff00"/>
<rect x="486.52" y="66.78" width="4.53" height="3.08" fill="#00ff00"/>
<rect x="495.58" y="66.78" width="5.13" height="3.08" fill="#00ff00"/>
<rect x="500.12" y="66.78" width="4.53" height="2.48" fill="#00ff00"/>
<rect x="509.19" y="66.78" width="4.53" height="2.48" fill="#00ff00"/>
<rect x="459.31" y="69.26" width="5.13" height="2.48" fill="#00ff00"/>
<rect x="463.84" y="69.26" width="5.13" height="3.08" fill="#00ff00"/>
<rect x="468.38" y="69.26" width="5.13" height="3.08" fill="#00ff00"/>
<rect x="472.91" y="69.26" width="5.13" height="3.08" fill="#00ff00"/>
<rect x="477.45" y="69.26" width="5.13" height="3.08" fill="#00ff00"/>
<rect x="481.98" y="69.26" width="5.13" height="3.08" fill="#00ff00"/>
<rect x="486.52" y="69.26" width="5.13" height="2.48" fill="#00ff00"/>
<rect x="491.05" y="69.26" width="5.13" height="3.08" fill="#00ff00"/>
<rect x="495.58" y="69.26" width="4.53" height="3.08" fill="#00ff00"/>
<rect x="454.77" y="71.75" width="4.53" height="2.48" fill="#00ff00"/>
<rect x="463.84" y="71.75" width="5.13" height="3.08" fill="#00ff00"/>
<rect x="468.38" y="71.75" width="5.13" height="3.08" fill="#00ff00"/>
<rect x="472.91" y="71.75" width="5.13" height="3.08" fill="#00ff00"/>
<rect x="477.45" y="71.75" width="5.13" height="3.08" fill="#00ff00"/>
<rect x="481.98" y="71.75" width="4.53" height="2.48" fill="#00ff00"/>
<rect x="491.05" y="71.75" width="5.13" height="3.08" fill="#00ff00"/>
<rect x="495.58" y="71.75" width="5.13" height="2.48" fill="#00ff00"/>
<rect x="500.12" y="71.75" width="4.53" height="2.48" fill="#00ff00"/>
<rect x="459.31" y="74.23" width="5.13" height="3.08" fill="#00ff00"/>
<rect x="463.84" y="74.23" width="5.13" height="3.08" fill="#00ff00"/>
<rect x="468.38" y="74.23" width="5.13" height="3.08" fill="#00ff00"/>
<rect x="472.91" y="74.23" width="5.13" height="3.08" fill="#00ff00"/>
<rect x="477.45" y="74.23" width="4.53" height="3.08" fill="#00ff00"/>
<rect x="486.52" y="74.23" width="5.13" height="2.48" fill="#00ff00"/>
<rect x="491.05" y="74.23" width="4.53" height="2.48" fill="#00ff4c"/>
<rect x="459.31" y="76.72" width="5.13" height="3.08" fill="#00ff00"/>
<rect x="463.84" y="76.72" width="5.13" height="3.08" fill="#00ff00"/>
<rect x="468.38" y="76.72" width="5.13" height="3.08" fill="#00ff00"/>
<rect x="472.91" y="76.72" width="5.13" height="3.08" fill="#00ff00"/>
<rect x="477.45" y="76.72" width="4.53" height="3.08" fill="#00ff00"/>
<rect x="450.24" y="79.20" width="5.13" height="2.48" fill="#00ff00"/>
<rect x="454.77" y="79.20" width="5.13" height="3.08" fill="#00ff00"/>
<rect x="459.31" y="79.20" width="5.13" height="3.08" fill="#00ff00"/>
<rect x="463.84" y="79.20" width="5.13" height="2.48" fill="#00ff00"/>
<rect x="468.38" y="79.20" width="5.13" height="3.08" fill="#00ff4c"/>
<rect x="472.91" y="79.20" width="5.13" height="3.08" fill="#00ff4c"/>
<rect x="477.45" y="79.20" width="4.53" height="3.08" fill="#00ff00"/>
<rect x="454.77" y="81.68" width="5.13" height="2.48" fill="#00ff00"/>
<rect x="459.31" y="81.68" width="4.53" height="2.48" fill="#00ff00"/>
<rect x="468.38" y="81.68" width="5.13" height="2.48" fill="#00ff4c"/>
<rect x="472.91" y="81.68" width="5.13" height="2.48" fill="#00ff4c"/>
<rect x="477.45" y="81.68" width="5.13" height="2.48" fill="#00ff00"/>
<rect x="481.98" y="81.68" width="4.53" height="2.48" fill="#00ff00"/>
<rect x="486.52" y="84.17" width="4.53" height="2.48" fill="#00ff00"/>
<rect x="463.84" y="86.65" width="4.53" height="2.48" fill="#00ff00"/>
<rect x="491.05" y="91.62" width="4.53" height="2.48" fill="#00ffa1"/>
<rect x="468.38" y="96.59" width="4.53" height="2.48" fill="#00ffa1"/>
<rect x="472.91" y="99.07" width="4.53" height="2.48" fill="#00ff00"/>
</g>
<rect x="438.80" y="15.85" width="104.30" height="86.95" fill="none" stroke="#808080" stroke-width="1.0"/>
<line x1="457.03" y1="102.80" x2="457.03" y2="101.50" stroke="#444" stroke-width="0.7"/>
<line x1="457.03" y1="15.85" x2="457.03" y2="17.15" stroke="#444" stroke-width="0.7"/>
<text x="457.03" y="116.40" font-size="9.7" text-anchor="middle">78</text>
<line x1="484.15" y1="102.80" x2="484.15" y2="101.50" stroke="#444" stroke-width="0.7"/>
<line x1="484.15" y1="15.85" x2="484.15" y2="17.15" stroke="#444" stroke-width="0.7"/>
<text x="484.15" y="116.40" font-size="9.7" text-anchor="middle">110</text>
<line x1="511.45" y1="102.80" x2="511.45" y2="101.50" stroke="#444" stroke-width="0.7"/>
<line x1="511.45" y1="15.85" x2="511.45" y2="17.15" stroke="#444" stroke-width="0.7"/>
<text x="511.45" y="116.40" font-size="9.7" text-anchor="middle">156</text>
<line x1="538.57" y1="102.80" x2="538.57" y2="101.50" stroke="#444" stroke-width="0.7"/>
<line x1="538.57" y1="15.85" x2="538.57" y2="17.15" stroke="#444" stroke-width="0.7"/>
<text x="537.77" y="116.40" font-size="9.7" text-anchor="middle">220</text>
<text x="434.60" y="19.10" font-size="9.7" text-anchor="end">90</text>
<line x1="438.80" y1="40.69" x2="440.10" y2="40.69" stroke="#444" stroke-width="0.7"/>
<line x1="543.10" y1="40.69" x2="541.80" y2="40.69" stroke="#444" stroke-width="0.7"/>
<text x="434.60" y="43.94" font-size="9.7" text-anchor="end">80</text>
<line x1="438.80" y1="65.54" x2="440.10" y2="65.54" stroke="#444" stroke-width="0.7"/>
<line x1="543.10" y1="65.54" x2="541.80" y2="65.54" stroke="#444" stroke-width="0.7"/>
<text x="434.60" y="68.79" font-size="9.7" text-anchor="end">70</text>
<line x1="438.80" y1="90.38" x2="440.10" y2="90.38" stroke="#444" stroke-width="0.7"/>
<line x1="543.10" y1="90.38" x2="541.80" y2="90.38" stroke="#444" stroke-width="0.7"/>
<text x="434.60" y="93.63" font-size="9.7" text-anchor="end">60</text>
<text x="509.40" y="12.00" font-size="7.5" text-anchor="middle">M07_SRP1</text>
</g>
<g>
<line x1="48.48" y1="136.10" x2="48.48" y2="222.80" stroke="#e5e5e5" stroke-width="0.7"/>
<line x1="75.52" y1="136.10" x2="75.52" y2="222.80" stroke="#e5e5e5" stroke-width="0.7"/>
<line x1="102.74" y1="136.10" x2="102.74" y2="222.80" stroke="#e5e5e5" stroke-width="0.7"/>
<line x1="129.78" y1="136.10" x2="129.78" y2="222.80" stroke="#e5e5e5" stroke-width="0.7"/>
<line x1="30.30" y1="160.87" x2="134.30" y2="160.87" stroke="#e5e5e5" stroke-width="0.7"/>
<line x1="30.30" y1="185.64" x2="134.30" y2="185.64" stroke="#e5e5e5" stroke-width="0.7"/>
<line x1="30.30" y1="210.41" x2="134.30" y2="210.41" stroke="#e5e5e5" stroke-width="0.7"/>
<g shape-rendering="auto">
<rect x="86.92" y="166.86" width="4.52" height="2.48" fill="#ffff00"/>
<rect x="82.40" y="174.30" width="5.12" height="3.08" fill="#bfff00"/>
<rect x="86.92" y="174.30" width="4.52" height="3.08" fill="#bfff00"/>
<rect x="77.88" y="176.77" width="5.12" height="3.08" fill="#ffff00"/>
<rect x="82.40" y="176.77" width="5.12" height="3.08" fill="#bfff00"/>
<rect x="86.92" y="176.77" width="5.12" height="3.08" fill="#ffff00"/>
<rect x="91.44" y="176.77" width="4.52" height="3.08" fill="#00ff00"/>
<rect x="73.36" y="179.25" width="5.12" height="3.08" fill="#ffff00"/>
<rect x="77.88" y="179.25" width="5.12" height="3.08" fill="#ffff00"/>
<rect x="82.40" y="179.25" width="5.12" height="3.08" fill="#bfff00"/>
<rect x="86.92" y="179.25" width="5.12" height="3.08" fill="#65ff00"/>
<rect x="91.44" y="179.25" width="5.12" height="2.48" fill="#bfff00"/>
<rect x="95.97" y="179.25" width="4.52" height="2.48" fill="#65ff00"/>
<rect x="73.36" y="181.73" width="5.12" height="3.08" fill="#ffff00"/>
<rect x="77.88" y="181.73" width="5.12" height="3.08" fill="#ffff00"/>
<rect x="82.40" y="181.73" width="5.12" height="3.08" fill="#bfff00"/>
<rect x="86.92" y="181.73" width="4.52" height="3.08" fill="#65ff00"/>
<rect x="73.36" y="184.20" width="5.12" height="3.08" fill="#ffff00"/>
<rect x="77.88" y="184.20" width="5.12" height="3.08" fill="#ffff00"/>
<rect x="82.40" y="184.20" width="5.12" height="3.08" fill="#bfff00"/>
<rect x="86.92" y="184.20" width="5.12" height="3.08" fill="#65ff00"/>
<rect x="91.44" y="184.20" width="4.52" height="3.08" fill="#00ff00"/>
<rect x="73.36" y="186.68" width="5.12" height="3.08" fill="#e1ff00"/>
<rect x="77.88" y="186.68" width="5.12" height="3.08" fill="#bfff00"/>
<rect x="82.40" y="186.68" width="5.12" height="3.08" fill="#bfff00"/>
<rect x="86.92" y="186.68" width="5.12" height="3.08" fill="#65ff00"/>
<rect x="91.44" y="186.68" width="4.52" height="2.48" fill="#00ff00"/>
<rect x="68.83" y="189.16" width="5.12" height="3.08" fill="#bfff00"/>
<rect x="73.36" y="189.16" width="5.12" height="3.08" fill="#bfff00"/>
<rect x="77.88" y="189.16" width="5.12" height="3.08" fill="#bfff00"/>
<rect x="82.40" y="189.16" width="5.12" height="3.08" fill="#bfff00"/>
<rect x="86.92" y="189.16" width="4.52" height="2.48" fill="#65ff00"/>
<rect x="68.83" y="191.64" width="5.12" height="3.08" fill="#bfff00"/>
<rect x="73.36" y="191.64" width="5.12" height="3.08" fill="#bfff00"/>
<rect x="77.88" y="191.64" width="5.12" height="3.08" fill="#bfff00"/>
<rect x="82.40" y="191.64" width="4.52" height="3.08" fill="#65ff00"/>
<rect x="68.83" y="194.11" width="5.12" height="3.08" fill="#bfff00"/>
<rect x="73.36" y="194.11" width="5.12" height="3.08" fill="#bfff00"/>
<rect x="77.88" y="194.11" width="5.12" height="3.08" fill="#65ff00"/>
<rect x="82.40" y="194.11" width="4.52" height="3.08" fill="#00ff00"/>
<rect x="68.83" y="196.59" width="5.12" height="3.08" fill="#bfff00"/>
<rect x="73.36" y="196.59" width="5.12" height="3.08" fill="#65ff00"/>
<rect x="77.88" y="196.59" width="5.12" height="3.08" fill="#65ff00"/>
<rect x="82.40" y="196.59" width="5.12" height="2.48" fill="#00ff00"/>
<rect x="86.92" y="196.59" width="4.52" height="2.48" fill="#00ff00"/>
<rect x="68.83" y="199.07" width="5.12" height="3.08" fill="#65ff00"/>
<rect x="73.36" y="199.07" width="5.12" height="3.08" fill="#65ff00"/>
<rect x="77.88" y="199.07" width="4.52" height="3.08" fill="#00ff00"/>
<rect x="68.83" y="201.54" width="5.12" height="3.08" fill="#65ff00"/>
<rect x="73.36" y="201.54" width="5.12" height="3.08" fill="#65ff00"/>
<rect x="77.88" y="201.54" width="5.12" height="3.08" fill="#00ff00"/>
<rect x="82.40" y="201.54" width="5.12" height="2.48" fill="#00ff00"/>
<rect x="86.92" y="201.54" width="4.52" height="2.48" fill="#00ff00"/>
<rect x="68.83" y="204.02" width="5.12" height="3.08" fill="#00ff00"/>
<rect x="73.36" y="204.02" width="5.12" height="3.08" fill="#65ff00"/>
<rect x="77.88" y="204.02" width="4.52" height="2.48" fill="#00ff00"/>
<rect x="68.83" y="206.50" width="5.12" height="3.08" fill="#65ff00"/>
<rect x="73.36" y="206.50" width="4.52" height="3.08" fill="#00ff00"/>
<rect x="68.83" y="208.98" width="5.12" height="3.08" fill="#65ff00"/>
<rect x="73.36" y="208.98" width="4.52" height="3.08" fill="#65ff00"/>
<rect x="64.31" y="211.45" width="5.12" height="2.48" fill="#00ff00"/>
<rect x="68.83" y="211.45" width="5.12" height="3.08" fill="#65ff00"/>
<rect x="73.36" y="211.45" width="4.52" height="2.48" fill="#65ff00"/>
<rect x="68.83" y="213.93" width="4.52" height="2.48" fill="#bfff00"/>
</g>
<rect x="30.30" y="136.10" width="104.00" height="86.70" fill="none" stroke="#808080" stroke-width="1.0"/>
<line x1="48.48" y1="222.80" x2="48.48" y2="221.50" stroke="#444" stroke-width="0.7"/>
<line x1="48.48" y1="136.10" x2="48.48" y2="137.40" stroke="#444" stroke-width="0.7"/>
<text x="48.48" y="236.30" font-size="9.7" text-anchor="middle">78</text>
<line x1="75.52" y1="222.80" x2="75.52" y2="221.50" stroke="#444" stroke-width="0.7"/>
<line x1="75.52" y1="136.10" x2="75.52" y2="137.40" stroke="#444" stroke-width="0.7"/>
<text x="75.52" y="236.30" font-size="9.7" text-anchor="middle">110</text>
<line x1="102.74" y1="222.80" x2="102.74" y2="221.50" stroke="#444" stroke-width="0.7"/>
<line x1="102.74" y1="136.10" x2="102.74" y2="137.40" stroke="#444" stroke-width="0.7"/>
<text x="102.74" y="236.30" font-size="9.7" text-anchor="middle">156</text>
<line x1="129.78" y1="222.80" x2="129.78" y2="221.50" stroke="#444" stroke-width="0.7"/>
<line x1="129.78" y1="136.10" x2="129.78" y2="137.40" stroke="#444" stroke-width="0.7"/>
<text x="128.98" y="236.30" font-size="9.7" text-anchor="middle">220</text>
<text x="26.10" y="139.35" font-size="9.7" text-anchor="end">90</text>
<line x1="30.30" y1="160.87" x2="31.60" y2="160.87" stroke="#444" stroke-width="0.7"/>
<line x1="134.30" y1="160.87" x2="133.00" y2="160.87" stroke="#444" stroke-width="0.7"/>
<text x="26.10" y="164.12" font-size="9.7" text-anchor="end">80</text>
<line x1="30.30" y1="185.64" x2="31.60" y2="185.64" stroke="#444" stroke-width="0.7"/>
<line x1="134.30" y1="185.64" x2="133.00" y2="185.64" stroke="#444" stroke-width="0.7"/>
<text x="26.10" y="188.89" font-size="9.7" text-anchor="end">70</text>
<line x1="30.30" y1="210.41" x2="31.60" y2="210.41" stroke="#444" stroke-width="0.7"/>
<line x1="134.30" y1="210.41" x2="133.00" y2="210.41" stroke="#444" stroke-width="0.7"/>
<text x="26.10" y="213.66" font-size="9.7" text-anchor="end">60</text>
<text x="100.90" y="131.90" font-size="7.5" text-anchor="middle">M01_SRP2</text>
<rect x="36.80" y="152.70" width="40.60" height="12.60" fill="url(#cb)" stroke="#4a3a2a" stroke-width="0.8"/>
<line x1="44.92" y1="154.20" x2="44.92" y2="162.20" stroke="#222" stroke-width="0.7"/>
<text x="44.32" y="147.00" font-size="8.2" text-anchor="middle">0.2</text>
<line x1="61.16" y1="154.20" x2="61.16" y2="162.20" stroke="#222" stroke-width="0.7"/>
<text x="60.56" y="147.00" font-size="8.2" text-anchor="middle">0.4</text>
<text x="76.80" y="147.00" font-size="8.2" text-anchor="middle">0.6</text>
<text x="45.30" y="130.80" font-size="7.7" font-style="italic">Q<tspan font-size="6.8" font-style="normal" dx="0.4" dy="4.0">ci</tspan></text>
<text transform="translate(10.20 181.05) rotate(-90)" font-size="7.35" text-anchor="middle" style="fill:#4a4a4a;stroke:none">SPL @0.3m(dB) Min 5 cycles</text>
</g>
<g>
<line x1="184.34" y1="136.10" x2="184.34" y2="222.80" stroke="#e5e5e5" stroke-width="0.7"/>
<line x1="211.33" y1="136.10" x2="211.33" y2="222.80" stroke="#e5e5e5" stroke-width="0.7"/>
<line x1="238.50" y1="136.10" x2="238.50" y2="222.80" stroke="#e5e5e5" stroke-width="0.7"/>
<line x1="265.49" y1="136.10" x2="265.49" y2="222.80" stroke="#e5e5e5" stroke-width="0.7"/>
<line x1="166.20" y1="160.87" x2="270.00" y2="160.87" stroke="#e5e5e5" stroke-width="0.7"/>
<line x1="166.20" y1="185.64" x2="270.00" y2="185.64" stroke="#e5e5e5" stroke-width="0.7"/>
<line x1="166.20" y1="210.41" x2="270.00" y2="210.41" stroke="#e5e5e5" stroke-width="0.7"/>
<g shape-rendering="auto">
<rect x="209.17" y="156.96" width="5.11" height="3.08" fill="#bfff00"/>
<rect x="213.69" y="156.96" width="5.11" height="3.08" fill="#ffbb00"/>
<rect x="218.20" y="156.96" width="4.51" height="3.08" fill="#bfff00"/>
<rect x="227.23" y="156.96" width="4.51" height="3.08" fill="#ffbb00"/>
<rect x="209.17" y="159.43" width="5.11" height="3.08" fill="#ffff00"/>
<rect x="213.69" y="159.43" width="5.11" height="3.08" fill="#e1ff00"/>
<rect x="218.20" y="159.43" width="5.11" height="3.08" fill="#bfff00"/>
<rect x="222.71" y="159.43" width="5.11" height="3.08" fill="#ffff00"/>
<rect x="227.23" y="159.43" width="4.51" height="3.08" fill="#ffff00"/>
<rect x="209.17" y="161.91" width="5.11" height="3.08" fill="#65ff00"/>
<rect x="213.69" y="161.91" width="5.11" height="3.08" fill="#bfff00"/>
<rect x="218.20" y="161.91" width="5.11" height="3.08" fill="#ffbb00"/>
<rect x="222.71" y="161.91" width="5.11" height="3.08" fill="#ffff00"/>
<rect x="227.23" y="161.91" width="4.51" height="3.08" fill="#ffff00"/>
<rect x="236.25" y="161.91" width="4.51" height="3.08" fill="#ffbb00"/>
<rect x="209.17" y="164.39" width="5.11" height="3.08" fill="#bfff00"/>
<rect x="213.69" y="164.39" width="5.11" height="3.08" fill="#bfff00"/>
<rect x="218.20" y="164.39" width="5.11" height="3.08" fill="#e1ff00"/>
<rect x="222.71" y="164.39" width="5.11" height="3.08" fill="#e1ff00"/>
<rect x="227.23" y="164.39" width="5.11" height="3.08" fill="#ffff00"/>
<rect x="231.74" y="164.39" width="5.11" height="2.48" fill="#bfff00"/>
<rect x="236.25" y="164.39" width="4.51" height="2.48" fill="#ffff00"/>
<rect x="204.66" y="166.86" width="5.11" height="3.08" fill="#ffff00"/>
<rect x="209.17" y="166.86" width="5.11" height="3.08" fill="#bfff00"/>
<rect x="213.69" y="166.86" width="5.11" height="3.08" fill="#bfff00"/>
<rect x="218.20" y="166.86" width="5.11" height="3.08" fill="#bfff00"/>
<rect x="222.71" y="166.86" width="5.11" height="3.08" fill="#e1ff00"/>
<rect x="227.23" y="166.86" width="4.51" height="3.08" fill="#e1ff00"/>
<rect x="240.77" y="166.86" width="4.51" height="2.48" fill="#00ff00"/>
<rect x="204.66" y="169.34" width="5.11" height="3.08" fill="#bfff00"/>
<rect x="209.17" y="169.34" width="5.11" height="3.08" fill="#bfff00"/>
<rect x="213.69" y="169.34" width="5.11" height="3.08" fill="#bfff00"/>
<rect x="218.20" y="169.34" width="5.11" height="3.08" fill="#bfff00"/>
<rect x="222.71" y="169.34" width="5.11" height="3.08" fill="#ffbb00"/>
<rect x="227.23" y="169.34" width="4.51" height="3.08" fill="#65ff00"/>
<rect x="200.15" y="171.82" width="5.11" height="3.08" fill="#00ff00"/>
<rect x="204.66" y="171.82" width="5.11" height="3.08" fill="#65ff00"/>
<rect x="209.17" y="171.82" width="5.11" height="3.08" fill="#bfff00"/>
<rect x="213.69" y="171.82" width="5.11" height="3.08" fill="#bfff00"/>
<rect x="218.20" y="171.82" width="5.11" height="3.08" fill="#bfff00"/>
<rect x="222.71" y="171.82" width="5.11" height="3.08" fill="#bfff00"/>
<rect x="227.23" y="171.82" width="5.11" height="3.08" fill="#00ff00"/>
<rect x="231.74" y="171.82" width="4.51" height="3.08" fill="#bfff00"/>
<rect x="200.15" y="174.30" width="5.11" height="3.08" fill="#65ff00"/>
<rect x="204.66" y="174.30" width="5.11" height="3.08" fill="#65ff00"/>
<rect x="209.17" y="174.30" width="5.11" height="3.08" fill="#65ff00"/>
<rect x="213.69" y="174.30" width="5.11" height="3.08" fill="#bfff00"/>
<rect x="218.20" y="174.30" width="5.11" height="3.08" fill="#bfff00"/>
<rect x="222.71" y="174.30" width="5.11" height="3.08" fill="#ffff00"/>
<rect x="227.23" y="174.30" width="5.11" height="3.08" fill="#65ff00"/>
<rect x="231.74" y="174.30" width="4.51" height="3.08" fill="#00ff00"/>
<rect x="195.63" y="176.77" width="5.11" height="3.08" fill="#00ff00"/>
<rect x="200.15" y="176.77" width="5.11" height="3.08" fill="#65ff00"/>
<rect x="204.66" y="176.77" width="5.11" height="3.08" fill="#65ff00"/>
<rect x="209.17" y="176.77" width="5.11" height="3.08" fill="#bfff00"/>
<rect x="213.69" y="176.77" width="5.11" height="3.08" fill="#bfff00"/>
<rect x="218.20" y="176.77" width="5.11" height="3.08" fill="#bfff00"/>
<rect x="222.71" y="176.77" width="5.11" height="3.08" fill="#65ff00"/>
<rect x="227.23" y="176.77" width="5.11" height="3.08" fill="#ffff00"/>
<rect x="231.74" y="176.77" width="4.51" height="3.08" fill="#00ff00"/>
<rect x="195.63" y="179.25" width="5.11" height="3.08" fill="#00ff00"/>
<rect x="200.15" y="179.25" width="5.11" height="3.08" fill="#00ff00"/>
<rect x="204.66" y="179.25" width="5.11" height="3.08" fill="#65ff00"/>
<rect x="209.17" y="179.25" width="5.11" height="3.08" fill="#65ff00"/>
<rect x="213.69" y="179.25" width="5.11" height="3.08" fill="#bfff00"/>
<rect x="218.20" y="179.25" width="5.11" height="3.08" fill="#bfff00"/>
<rect x="222.71" y="179.25" width="5.11" height="3.08" fill="#65ff00"/>
<rect x="227.23" y="179.25" width="5.11" height="2.48" fill="#00ff00"/>
<rect x="231.74" y="179.25" width="4.51" height="3.08" fill="#65ff00"/>
<rect x="195.63" y="181.73" width="5.11" height="3.08" fill="#00ff00"/>
<rect x="200.15" y="181.73" width="5.11" height="3.08" fill="#00ff00"/>
<rect x="204.66" y="181.73" width="5.11" height="3.08" fill="#bfff00"/>
<rect x="209.17" y="181.73" width="5.11" height="3.08" fill="#65ff00"/>
<rect x="213.69" y="181.73" width="5.11" height="3.08" fill="#bfff00"/>
<rect x="218.20" y="181.73" width="5.11" height="2.48" fill="#bfff00"/>
<rect x="222.71" y="181.73" width="4.51" height="3.08" fill="#00ff00"/>
<rect x="231.74" y="181.73" width="4.51" height="2.48" fill="#00ff00"/>
<rect x="191.12" y="184.20" width="5.11" height="2.48" fill="#00ff00"/>
<rect x="195.63" y="184.20" width="5.11" height="3.08" fill="#00ff00"/>
<rect x="200.15" y="184.20" width="5.11" height="3.08" fill="#00ff00"/>
<rect x="204.66" y="184.20" width="5.11" height="3.08" fill="#bfff00"/>
<rect x="209.17" y="184.20" width="5.11" height="3.08" fill="#65ff00"/>
<rect x="213.69" y="184.20" width="4.51" height="2.48" fill="#bfff00"/>
<rect x="222.71" y="184.20" width="5.11" height="3.08" fill="#00ff00"/>
<rect x="227.23" y="184.20" width="4.51" height="2.48" fill="#00ff00"/>
<rect x="195.63" y="186.68" width="5.11" height="3.08" fill="#00ff00"/>
<rect x="200.15" y="186.68" width="5.11" height="3.08" fill="#00ff00"/>
<rect x="204.66" y="186.68" width="5.11" height="3.08" fill="#65ff00"/>
<rect x="209.17" y="186.68" width="4.51" height="3.08" fill="#65ff00"/>
<rect x="222.71" y="186.68" width="4.51" height="2.48" fill="#00ff00"/>
<rect x="195.63" y="189.16" width="5.11" height="3.08" fill="#00ff00"/>
<rect x="200.15" y="189.16" width="5.11" height="3.08" fill="#00ff00"/>
<rect x="204.66" y="189.16" width="5.11" height="3.08" fill="#65ff00"/>
<rect x="209.17" y="189.16" width="4.51" height="3.08" fill="#00ff00"/>
<rect x="227.23" y="189.16" width="4.51" height="2.48" fill="#00ff00"/>
<rect x="195.63" y="191.64" width="5.11" height="2.48" fill="#00ff00"/>
<rect x="200.15" y="191.64" width="5.11" height="3.08" fill="#00ff00"/>
<rect x="204.66" y="191.64" width="5.11" height="3.08" fill="#00ff00"/>
<rect x="209.17" y="191.64" width="4.51" height="2.48" fill="#bfff00"/>
<rect x="231.74" y="191.64" width="4.51" height="2.48" fill="#00ffa1"/>
<rect x="200.15" y="194.11" width="5.11" height="2.48" fill="#00ff00"/>
<rect x="204.66" y="194.11" width="4.51" height="2.48" fill="#00ff00"/>
<rect x="195.63" y="196.59" width="4.51" height="2.48" fill="#00ff00"/>
<rect x="200.15" y="211.45" width="4.51" height="2.48" fill="#00ff00"/>
</g>
<rect x="166.20" y="136.10" width="103.80" height="86.70" fill="none" stroke="#808080" stroke-width="1.0"/>
<line x1="184.34" y1="222.80" x2="184.34" y2="221.50" stroke="#444" stroke-width="0.7"/>
<line x1="184.34" y1="136.10" x2="184.34" y2="137.40" stroke="#444" stroke-width="0.7"/>
<text x="184.34" y="236.30" font-size="9.7" text-anchor="middle">78</text>
<line x1="211.33" y1="222.80" x2="211.33" y2="221.50" stroke="#444" stroke-width="0.7"/>
<line x1="211.33" y1="136.10" x2="211.33" y2="137.40" stroke="#444" stroke-width="0.7"/>
<text x="211.33" y="236.30" font-size="9.7" text-anchor="middle">110</text>
<line x1="238.50" y1="222.80" x2="238.50" y2="221.50" stroke="#444" stroke-width="0.7"/>
<line x1="238.50" y1="136.10" x2="238.50" y2="137.40" stroke="#444" stroke-width="0.7"/>
<text x="238.50" y="236.30" font-size="9.7" text-anchor="middle">156</text>
<line x1="265.49" y1="222.80" x2="265.49" y2="221.50" stroke="#444" stroke-width="0.7"/>
<line x1="265.49" y1="136.10" x2="265.49" y2="137.40" stroke="#444" stroke-width="0.7"/>
<text x="264.69" y="236.30" font-size="9.7" text-anchor="middle">220</text>
<text x="162.00" y="139.35" font-size="9.7" text-anchor="end">90</text>
<line x1="166.20" y1="160.87" x2="167.50" y2="160.87" stroke="#444" stroke-width="0.7"/>
<line x1="270.00" y1="160.87" x2="268.70" y2="160.87" stroke="#444" stroke-width="0.7"/>
<text x="162.00" y="164.12" font-size="9.7" text-anchor="end">80</text>
<line x1="166.20" y1="185.64" x2="167.50" y2="185.64" stroke="#444" stroke-width="0.7"/>
<line x1="270.00" y1="185.64" x2="268.70" y2="185.64" stroke="#444" stroke-width="0.7"/>
<text x="162.00" y="188.89" font-size="9.7" text-anchor="end">70</text>
<line x1="166.20" y1="210.41" x2="167.50" y2="210.41" stroke="#444" stroke-width="0.7"/>
<line x1="270.00" y1="210.41" x2="268.70" y2="210.41" stroke="#444" stroke-width="0.7"/>
<text x="162.00" y="213.66" font-size="9.7" text-anchor="end">60</text>
<text x="236.80" y="131.90" font-size="7.5" text-anchor="middle">M03_SRP2</text>
</g>
<g>
<line x1="320.74" y1="136.10" x2="320.74" y2="222.80" stroke="#e5e5e5" stroke-width="0.7"/>
<line x1="347.73" y1="136.10" x2="347.73" y2="222.80" stroke="#e5e5e5" stroke-width="0.7"/>
<line x1="374.90" y1="136.10" x2="374.90" y2="222.80" stroke="#e5e5e5" stroke-width="0.7"/>
<line x1="401.89" y1="136.10" x2="401.89" y2="222.80" stroke="#e5e5e5" stroke-width="0.7"/>
<line x1="302.60" y1="160.87" x2="406.40" y2="160.87" stroke="#e5e5e5" stroke-width="0.7"/>
<line x1="302.60" y1="185.64" x2="406.40" y2="185.64" stroke="#e5e5e5" stroke-width="0.7"/>
<line x1="302.60" y1="210.41" x2="406.40" y2="210.41" stroke="#e5e5e5" stroke-width="0.7"/>
<g shape-rendering="auto">
<rect x="372.65" y="147.05" width="4.51" height="3.08" fill="#00ff00"/>
<rect x="354.60" y="149.52" width="5.11" height="3.08" fill="#65ff00"/>
<rect x="359.11" y="149.52" width="5.11" height="3.08" fill="#65ff00"/>
<rect x="363.63" y="149.52" width="5.11" height="3.08" fill="#00ff00"/>
<rect x="368.14" y="149.52" width="5.11" height="3.08" fill="#00ff00"/>
<rect x="372.65" y="149.52" width="5.11" height="3.08" fill="#00ff00"/>
<rect x="377.17" y="149.52" width="4.51" height="3.08" fill="#65ff00"/>
<rect x="345.57" y="152.00" width="5.11" height="3.08" fill="#ff7700"/>
<rect x="350.09" y="152.00" width="5.11" height="3.08" fill="#ffff00"/>
<rect x="354.60" y="152.00" width="5.11" height="3.08" fill="#ffff00"/>
<rect x="359.11" y="152.00" width="5.11" height="3.08" fill="#65ff00"/>
<rect x="363.63" y="152.00" width="5.11" height="3.08" fill="#00ff00"/>
<rect x="368.14" y="152.00" width="5.11" height="3.08" fill="#00ff00"/>
<rect x="372.65" y="152.00" width="5.11" height="3.08" fill="#00ff00"/>
<rect x="377.17" y="152.00" width="4.51" height="3.08" fill="#65ff00"/>
<rect x="341.06" y="154.48" width="5.11" height="3.08" fill="#ff7700"/>
<rect x="345.57" y="154.48" width="5.11" height="3.08" fill="#ffbb00"/>
<rect x="350.09" y="154.48" width="5.11" height="3.08" fill="#ffff00"/>
<rect x="354.60" y="154.48" width="5.11" height="3.08" fill="#ffff00"/>
<rect x="359.11" y="154.48" width="5.11" height="3.08" fill="#bfff00"/>
<rect x="363.63" y="154.48" width="5.11" height="3.08" fill="#00ff00"/>
<rect x="368.14" y="154.48" width="5.11" height="3.08" fill="#00ff00"/>
<rect x="372.65" y="154.48" width="5.11" height="3.08" fill="#00ff00"/>
<rect x="377.17" y="154.48" width="4.51" height="2.48" fill="#00ff00"/>
<rect x="386.19" y="154.48" width="4.51" height="2.48" fill="#bfff00"/>
<rect x="336.55" y="156.96" width="5.11" height="3.08" fill="#ff3b00"/>
<rect x="341.06" y="156.96" width="5.11" height="3.08" fill="#ff7700"/>
<rect x="345.57" y="156.96" width="5.11" height="3.08" fill="#ffbb00"/>
<rect x="350.09" y="156.96" width="5.11" height="3.08" fill="#ffff00"/>
<rect x="354.60" y="156.96" width="5.11" height="3.08" fill="#ffff00"/>
<rect x="359.11" y="156.96" width="5.11" height="3.08" fill="#bfff00"/>
<rect x="363.63" y="156.96" width="5.11" height="3.08" fill="#00ff00"/>
<rect x="368.14" y="156.96" width="5.11" height="3.08" fill="#00ff00"/>
<rect x="372.65" y="156.96" width="4.51" height="3.08" fill="#00ff00"/>
<rect x="332.03" y="159.43" width="5.11" height="3.08" fill="#ff0000"/>
<rect x="336.55" y="159.43" width="5.11" height="3.08" fill="#ff7700"/>
<rect x="341.06" y="159.43" width="5.11" height="3.08" fill="#ffbb00"/>
<rect x="345.57" y="159.43" width="5.11" height="3.08" fill="#ffff00"/>
<rect x="350.09" y="159.43" width="5.11" height="3.08" fill="#e1ff00"/>
<rect x="354.60" y="159.43" width="5.11" height="3.08" fill="#bfff00"/>
<rect x="359.11" y="159.43" width="5.11" height="3.08" fill="#bfff00"/>
<rect x="363.63" y="159.43" width="5.11" height="3.08" fill="#00ff00"/>
<rect x="368.14" y="159.43" width="5.11" height="3.08" fill="#00ff00"/>
<rect x="372.65" y="159.43" width="5.11" height="3.08" fill="#00ff00"/>
<rect x="377.17" y="159.43" width="4.51" height="3.08" fill="#bfff00"/>
<rect x="332.03" y="161.91" width="5.11" height="3.08" fill="#ff3b00"/>
<rect x="336.55" y="161.91" width="5.11" height="3.08" fill="#ff7700"/>
<rect x="341.06" y="161.91" width="5.11" height="3.08" fill="#ffbb00"/>
<rect x="345.57" y="161.91" width="5.11" height="3.08" fill="#ffff00"/>
<rect x="350.09" y="161.91" width="5.11" height="3.08" fill="#e1ff00"/>
<rect x="354.60" y="161.91" width="5.11" height="3.08" fill="#bfff00"/>
<rect x="359.11" y="161.91" width="5.11" height="3.08" fill="#65ff00"/>
<rect x="363.63" y="161.91" width="5.11" height="3.08" fill="#00ff00"/>
<rect x="368.14" y="161.91" width="5.11" height="3.08" fill="#00ff00"/>
<rect x="372.65" y="161.91" width="5.11" height="3.08" fill="#00ff00"/>
<rect x="377.17" y="161.91" width="4.51" height="3.08" fill="#bfff00"/>
<rect x="332.03" y="164.39" width="5.11" height="3.08" fill="#ff7700"/>
<rect x="336.55" y="164.39" width="5.11" height="3.08" fill="#ff7700"/>
<rect x="341.06" y="164.39" width="5.11" height="3.08" fill="#ffbb00"/>
<rect x="345.57" y="164.39" width="5.11" height="3.08" fill="#ffff00"/>
<rect x="350.09" y="164.39" width="5.11" height="3.08" fill="#e1ff00"/>
<rect x="354.60" y="164.39" width="5.11" height="3.08" fill="#bfff00"/>
<rect x="359.11" y="164.39" width="5.11" height="3.08" fill="#65ff00"/>
<rect x="363.63" y="164.39" width="5.11" height="3.08" fill="#00ff00"/>
<rect x="368.14" y="164.39" width="5.11" height="3.08" fill="#00ff00"/>
<rect x="372.65" y="164.39" width="5.11" height="2.48" fill="#00ff00"/>
<rect x="377.17" y="164.39" width="4.51" height="2.48" fill="#bfff00"/>
<rect x="332.03" y="166.86" width="5.11" height="3.08" fill="#ff7700"/>
<rect x="336.55" y="166.86" width="5.11" height="3.08" fill="#ff7700"/>
<rect x="341.06" y="166.86" width="5.11" height="3.08" fill="#ffbb00"/>
<rect x="345.57" y="166.86" width="5.11" height="3.08" fill="#ffbb00"/>
<rect x="350.09" y="166.86" width="5.11" height="3.08" fill="#e1ff00"/>
<rect x="354.60" y="166.86" width="5.11" height="3.08" fill="#bfff00"/>
<rect x="359.11" y="166.86" width="5.11" height="3.08" fill="#65ff00"/>
<rect x="363.63" y="166.86" width="5.11" height="3.08" fill="#65ff00"/>
<rect x="368.14" y="166.86" width="4.51" height="3.08" fill="#65ff00"/>
<rect x="327.52" y="169.34" width="5.11" height="2.48" fill="#ff7700"/>
<rect x="332.03" y="169.34" width="5.11" height="3.08" fill="#ff7700"/>
<rect x="336.55" y="169.34" width="5.11" height="3.08" fill="#ff7700"/>
<rect x="341.06" y="169.34" width="5.11" height="3.08" fill="#ffbb00"/>
<rect x="345.57" y="169.34" width="5.11" height="3.08" fill="#ffbb00"/>
<rect x="350.09" y="169.34" width="5.11" height="3.08" fill="#e1ff00"/>
<rect x="354.60" y="169.34" width="5.11" height="3.08" fill="#65ff00"/>
<rect x="359.11" y="169.34" width="5.11" height="2.48" fill="#65ff00"/>
<rect x="363.63" y="169.34" width="5.11" height="3.08" fill="#65ff00"/>
<rect x="368.14" y="169.34" width="4.51" height="2.48" fill="#65ff00"/>
<rect x="332.03" y="171.82" width="5.11" height="3.08" fill="#ff7700"/>
<rect x="336.55" y="171.82" width="5.11" height="3.08" fill="#ff7700"/>
<rect x="341.06" y="171.82" width="5.11" height="3.08" fill="#ffbb00"/>
<rect x="345.57" y="171.82" width="5.11" height="3.08" fill="#ffbb00"/>
<rect x="350.09" y="171.82" width="5.11" height="3.08" fill="#ffff00"/>
<rect x="354.60" y="171.82" width="4.51" height="3.08" fill="#00ff00"/>
<rect x="363.63" y="171.82" width="4.51" height="3.08" fill="#00ff00"/>
<rect x="327.52" y="174.30" width="5.11" height="3.08" fill="#ff0000"/>
<rect x="332.03" y="174.30" width="5.11" height="3.08" fill="#ff7700"/>
<rect x="336.55" y="174.30" width="5.11" height="3.08" fill="#ffbb00"/>
<rect x="341.06" y="174.30" width="5.11" height="3.08" fill="#ff7700"/>
<rect x="345.57" y="174.30" width="5.11" height="3.08" fill="#ffff00"/>
<rect x="350.09" y="174.30" width="5.11" height="3.08" fill="#ffff00"/>
<rect x="354.60" y="174.30" width="4.51" height="3.08" fill="#00ff00"/>
<rect x="363.63" y="174.30" width="4.51" height="2.48" fill="#00ff00"/>
<rect x="327.52" y="176.77" width="5.11" height="3.08" fill="#ff3b00"/>
<rect x="332.03" y="176.77" width="5.11" height="3.08" fill="#ff7700"/>
<rect x="336.55" y="176.77" width="5.11" height="3.08" fill="#ff7700"/>
<rect x="341.06" y="176.77" width="5.11" height="3.08" fill="#ff7700"/>
<rect x="345.57" y="176.77" width="5.11" height="3.08" fill="#ffbb00"/>
<rect x="350.09" y="176.77" width="5.11" height="3.08" fill="#ff7700"/>
<rect x="354.60" y="176.77" width="5.11" height="3.08" fill="#ffff00"/>
<rect x="359.11" y="176.77" width="4.51" height="2.48" fill="#00ff00"/>
<rect x="327.52" y="179.25" width="5.11" height="3.08" fill="#ff7700"/>
<rect x="332.03" y="179.25" width="5.11" height="3.08" fill="#ff7700"/>
<rect x="336.55" y="179.25" width="5.11" height="3.08" fill="#ff7700"/>
<rect x="341.06" y="179.25" width="5.11" height="3.08" fill="#ff7700"/>
<rect x="345.57" y="179.25" width="5.11" height="3.08" fill="#ffbb00"/>
<rect x="350.09" y="179.25" width="5.11" height="2.48" fill="#ff7700"/>
<rect x="354.60" y="179.25" width="4.51" height="2.48" fill="#ffff00"/>
<rect x="363.63" y="179.25" width="4.51" height="3.08" fill="#bfff00"/>
<rect x="327.52" y="181.73" width="5.11" height="3.08" fill="#ff7700"/>
<rect x="332.03" y="181.73" width="5.11" height="3.08" fill="#ffbb00"/>
<rect x="336.55" y="181.73" width="5.11" height="3.08" fill="#ff7700"/>
<rect x="341.06" y="181.73" width="5.11" height="2.48" fill="#ff7700"/>
<rect x="345.57" y="181.73" width="4.51" height="3.08" fill="#ff3b00"/>
<rect x="363.63" y="181.73" width="4.51" height="2.48" fill="#00ff00"/>
<rect x="327.52" y="184.20" width="5.11" height="2.48" fill="#ff7700"/>
<rect x="332.03" y="184.20" width="5.11" height="2.48" fill="#ffbb00"/>
<rect x="336.55" y="184.20" width="4.51" height="3.08" fill="#ff3b00"/>
<rect x="345.57" y="184.20" width="4.51" height="3.08" fill="#ff3b00"/>
<rect x="354.60" y="184.20" width="4.51" height="3.08" fill="#bfff00"/>
<rect x="336.55" y="186.68" width="4.51" height="3.08" fill="#ff3b00"/>
<rect x="345.57" y="186.68" width="4.51" height="2.48" fill="#ff3b00"/>
<rect x="354.60" y="186.68" width="4.51" height="2.48" fill="#bfff00"/>
<rect x="327.52" y="189.16" width="4.51" height="2.48" fill="#ff0000"/>
<rect x="336.55" y="189.16" width="5.11" height="3.08" fill="#ff3b00"/>
<rect x="341.06" y="189.16" width="4.51" height="3.08" fill="#ff3b00"/>
<rect x="336.55" y="191.64" width="5.11" height="2.48" fill="#ff3b00"/>
<rect x="341.06" y="191.64" width="5.11" height="2.48" fill="#ff3b00"/>
<rect x="345.57" y="191.64" width="4.51" height="2.48" fill="#ffbb00"/>
<rect x="350.09" y="194.11" width="4.51" height="2.48" fill="#ffbb00"/>
<rect x="345.57" y="199.07" width="4.51" height="2.48" fill="#ffbb00"/>
<rect x="336.55" y="201.54" width="4.51" height="2.48" fill="#ff0000"/>
</g>
<rect x="302.60" y="136.10" width="103.80" height="86.70" fill="none" stroke="#808080" stroke-width="1.0"/>
<line x1="320.74" y1="222.80" x2="320.74" y2="221.50" stroke="#444" stroke-width="0.7"/>
<line x1="320.74" y1="136.10" x2="320.74" y2="137.40" stroke="#444" stroke-width="0.7"/>
<text x="320.74" y="236.30" font-size="9.7" text-anchor="middle">78</text>
<line x1="347.73" y1="222.80" x2="347.73" y2="221.50" stroke="#444" stroke-width="0.7"/>
<line x1="347.73" y1="136.10" x2="347.73" y2="137.40" stroke="#444" stroke-width="0.7"/>
<text x="347.73" y="236.30" font-size="9.7" text-anchor="middle">110</text>
<line x1="374.90" y1="222.80" x2="374.90" y2="221.50" stroke="#444" stroke-width="0.7"/>
<line x1="374.90" y1="136.10" x2="374.90" y2="137.40" stroke="#444" stroke-width="0.7"/>
<text x="374.90" y="236.30" font-size="9.7" text-anchor="middle">156</text>
<line x1="401.89" y1="222.80" x2="401.89" y2="221.50" stroke="#444" stroke-width="0.7"/>
<line x1="401.89" y1="136.10" x2="401.89" y2="137.40" stroke="#444" stroke-width="0.7"/>
<text x="401.09" y="236.30" font-size="9.7" text-anchor="middle">220</text>
<text x="298.40" y="139.35" font-size="9.7" text-anchor="end">90</text>
<line x1="302.60" y1="160.87" x2="303.90" y2="160.87" stroke="#444" stroke-width="0.7"/>
<line x1="406.40" y1="160.87" x2="405.10" y2="160.87" stroke="#444" stroke-width="0.7"/>
<text x="298.40" y="164.12" font-size="9.7" text-anchor="end">80</text>
<line x1="302.60" y1="185.64" x2="303.90" y2="185.64" stroke="#444" stroke-width="0.7"/>
<line x1="406.40" y1="185.64" x2="405.10" y2="185.64" stroke="#444" stroke-width="0.7"/>
<text x="298.40" y="188.89" font-size="9.7" text-anchor="end">70</text>
<line x1="302.60" y1="210.41" x2="303.90" y2="210.41" stroke="#444" stroke-width="0.7"/>
<line x1="406.40" y1="210.41" x2="405.10" y2="210.41" stroke="#444" stroke-width="0.7"/>
<text x="298.40" y="213.66" font-size="9.7" text-anchor="end">60</text>
<text x="373.20" y="131.90" font-size="7.5" text-anchor="middle">M05_SRP2</text>
</g>
<g>
<line x1="457.03" y1="136.10" x2="457.03" y2="222.80" stroke="#e5e5e5" stroke-width="0.7"/>
<line x1="484.15" y1="136.10" x2="484.15" y2="222.80" stroke="#e5e5e5" stroke-width="0.7"/>
<line x1="511.45" y1="136.10" x2="511.45" y2="222.80" stroke="#e5e5e5" stroke-width="0.7"/>
<line x1="538.57" y1="136.10" x2="538.57" y2="222.80" stroke="#e5e5e5" stroke-width="0.7"/>
<line x1="438.80" y1="160.87" x2="543.10" y2="160.87" stroke="#e5e5e5" stroke-width="0.7"/>
<line x1="438.80" y1="185.64" x2="543.10" y2="185.64" stroke="#e5e5e5" stroke-width="0.7"/>
<line x1="438.80" y1="210.41" x2="543.10" y2="210.41" stroke="#e5e5e5" stroke-width="0.7"/>
<g shape-rendering="auto">
<rect x="504.65" y="161.91" width="4.53" height="3.08" fill="#00ff00"/>
<rect x="504.65" y="164.39" width="4.53" height="3.08" fill="#00ff00"/>
<rect x="495.58" y="166.86" width="5.13" height="3.08" fill="#00ff00"/>
<rect x="500.12" y="166.86" width="5.13" height="3.08" fill="#00ff00"/>
<rect x="504.65" y="166.86" width="4.53" height="3.08" fill="#00ff00"/>
<rect x="486.52" y="169.34" width="5.13" height="3.08" fill="#00ff00"/>
<rect x="491.05" y="169.34" width="5.13" height="3.08" fill="#00ff00"/>
<rect x="495.58" y="169.34" width="5.13" height="3.08" fill="#00ff00"/>
<rect x="500.12" y="169.34" width="5.13" height="3.08" fill="#00ff00"/>
<rect x="504.65" y="169.34" width="4.53" height="3.08" fill="#00ff00"/>
<rect x="481.98" y="171.82" width="5.13" height="3.08" fill="#00ff00"/>
<rect x="486.52" y="171.82" width="5.13" height="3.08" fill="#00ff00"/>
<rect x="491.05" y="171.82" width="5.13" height="3.08" fill="#00ff00"/>
<rect x="495.58" y="171.82" width="5.13" height="3.08" fill="#00ff00"/>
<rect x="500.12" y="171.82" width="5.13" height="3.08" fill="#00ff00"/>
<rect x="504.65" y="171.82" width="5.13" height="3.08" fill="#00ff00"/>
<rect x="509.19" y="171.82" width="5.13" height="3.08" fill="#00ff00"/>
<rect x="513.72" y="171.82" width="4.53" height="2.48" fill="#00ff00"/>
<rect x="481.98" y="174.30" width="5.13" height="3.08" fill="#00ff00"/>
<rect x="486.52" y="174.30" width="5.13" height="3.08" fill="#00ff00"/>
<rect x="491.05" y="174.30" width="5.13" height="3.08" fill="#00ff00"/>
<rect x="495.58" y="174.30" width="5.13" height="3.08" fill="#00ff00"/>
<rect x="500.12" y="174.30" width="5.13" height="3.08" fill="#00ff00"/>
<rect x="504.65" y="174.30" width="5.13" height="2.48" fill="#00ff00"/>
<rect x="509.19" y="174.30" width="4.53" height="2.48" fill="#00ff00"/>
<rect x="472.91" y="176.77" width="5.13" height="3.08" fill="#00ff00"/>
<rect x="477.45" y="176.77" width="5.13" height="3.08" fill="#00ff00"/>
<rect x="481.98" y="176.77" width="5.13" height="3.08" fill="#00ff00"/>
<rect x="486.52" y="176.77" width="5.13" height="3.08" fill="#00ff00"/>
<rect x="491.05" y="176.77" width="5.13" height="3.08" fill="#00ff00"/>
<rect x="495.58" y="176.77" width="5.13" height="3.08" fill="#00ff00"/>
<rect x="500.12" y="176.77" width="4.53" height="3.08" fill="#00ff00"/>
<rect x="472.91" y="179.25" width="5.13" height="3.08" fill="#00ff00"/>
<rect x="477.45" y="179.25" width="5.13" height="3.08" fill="#00ff00"/>
<rect x="481.98" y="179.25" width="5.13" height="3.08" fill="#00ff00"/>
<rect x="486.52" y="179.25" width="5.13" height="3.08" fill="#00ff00"/>
<rect x="491.05" y="179.25" width="5.13" height="3.08" fill="#00ff00"/>
<rect x="495.58" y="179.25" width="5.13" height="3.08" fill="#00ff00"/>
<rect x="500.12" y="179.25" width="4.53" height="3.08" fill="#00ff00"/>
<rect x="509.19" y="179.25" width="4.53" height="3.08" fill="#00ff00"/>
<rect x="536.40" y="179.25" width="4.53" height="2.48" fill="#bfff00"/>
<rect x="468.38" y="181.73" width="5.13" height="3.08" fill="#00ff00"/>
<rect x="472.91" y="181.73" width="5.13" height="3.08" fill="#00ff00"/>
<rect x="477.45" y="181.73" width="5.13" height="3.08" fill="#00ff00"/>
<rect x="481.98" y="181.73" width="5.13" height="3.08" fill="#00ff00"/>
<rect x="486.52" y="181.73" width="5.13" height="3.08" fill="#00ff00"/>
<rect x="491.05" y="181.73" width="5.13" height="3.08" fill="#00ff00"/>
<rect x="495.58" y="181.73" width="5.13" height="3.08" fill="#00ff00"/>
<rect x="500.12" y="181.73" width="5.13" height="3.08" fill="#00ff00"/>
<rect x="504.65" y="181.73" width="5.13" height="3.08" fill="#00ff00"/>
<rect x="509.19" y="181.73" width="5.13" height="2.48" fill="#00ff00"/>
<rect x="513.72" y="181.73" width="5.13" height="3.08" fill="#00ff00"/>
<rect x="518.26" y="181.73" width="4.53" height="2.48" fill="#00ff00"/>
<rect x="468.38" y="184.20" width="5.13" height="3.08" fill="#00ff00"/>
<rect x="472.91" y="184.20" width="5.13" height="3.08" fill="#00ff00"/>
<rect x="477.45" y="184.20" width="5.13" height="3.08" fill="#00ff00"/>
<rect x="481.98" y="184.20" width="5.13" height="3.08" fill="#00ff00"/>
<rect x="486.52" y="184.20" width="5.13" height="3.08" fill="#00ff00"/>
<rect x="491.05" y="184.20" width="5.13" height="3.08" fill="#00ff00"/>
<rect x="495.58" y="184.20" width="5.13" height="3.08" fill="#00ff00"/>
<rect x="500.12" y="184.20" width="5.13" height="3.08" fill="#00ff00"/>
<rect x="504.65" y="184.20" width="4.53" height="3.08" fill="#00ff00"/>
<rect x="513.72" y="184.20" width="4.53" height="2.48" fill="#00ff00"/>
<rect x="463.84" y="186.68" width="5.13" height="3.08" fill="#00ff00"/>
<rect x="468.38" y="186.68" width="5.13" height="3.08" fill="#00ff00"/>
<rect x="472.91" y="186.68" width="5.13" height="3.08" fill="#00ff00"/>
<rect x="477.45" y="186.68" width="5.13" height="3.08" fill="#00ff00"/>
<rect x="481.98" y="186.68" width="5.13" height="3.08" fill="#00ff00"/>
<rect x="486.52" y="186.68" width="5.13" height="3.08" fill="#00ff00"/>
<rect x="491.05" y="186.68" width="5.13" height="3.08" fill="#00ff00"/>
<rect x="495.58" y="186.68" width="5.13" height="3.08" fill="#00ff00"/>
<rect x="500.12" y="186.68" width="5.13" height="2.48" fill="#00ff00"/>
<rect x="504.65" y="186.68" width="4.53" height="2.48" fill="#00ff00"/>
<rect x="463.84" y="189.16" width="5.13" height="3.08" fill="#00ff00"/>
<rect x="468.38" y="189.16" width="5.13" height="3.08" fill="#00ff00"/>
<rect x="472.91" y="189.16" width="5.13" height="3.08" fill="#00ff00"/>
<rect x="477.45" y="189.16" width="5.13" height="3.08" fill="#00ff00"/>
<rect x="481.98" y="189.16" width="5.13" height="2.48" fill="#00ff00"/>
<rect x="486.52" y="189.16" width="5.13" height="3.08" fill="#00ff00"/>
<rect x="491.05" y="189.16" width="5.13" height="3.08" fill="#00ff00"/>
<rect x="495.58" y="189.16" width="4.53" height="3.08" fill="#00ff00"/>
<rect x="459.31" y="191.64" width="5.13" height="3.08" fill="#00ff00"/>
<rect x="463.84" y="191.64" width="5.13" height="3.08" fill="#00ff00"/>
<rect x="468.38" y="191.64" width="5.13" height="3.08" fill="#00ff00"/>
<rect x="472.91" y="191.64" width="5.13" height="3.08" fill="#00ff00"/>
<rect x="477.45" y="191.64" width="4.53" height="3.08" fill="#00ff00"/>
<rect x="486.52" y="191.64" width="5.13" height="2.48" fill="#00ff00"/>
<rect x="491.05" y="191.64" width="5.13" height="2.48" fill="#00ff00"/>
<rect x="495.58" y="191.64" width="4.53" height="2.48" fill="#00ff00"/>
<rect x="454.77" y="194.11" width="5.13" height="2.48" fill="#00ff00"/>
<rect x="459.31" y="194.11" width="5.13" height="3.08" fill="#00ff00"/>
<rect x="463.84" y="194.11" width="5.13" height="3.08" fill="#00ff00"/>
<rect x="468.38" y="194.11" width="5.13" height="3.08" fill="#00ff00"/>
<rect x="472.91" y="194.11" width="5.13" height="3.08" fill="#00ff00"/>
<rect x="477.45" y="194.11" width="5.13" height="3.08" fill="#00ff00"/>
<rect x="481.98" y="194.11" width="4.53" height="3.08" fill="#00ff00"/>
<rect x="459.31" y="196.59" width="5.13" height="3.08" fill="#00ff00"/>
<rect x="463.84" y="196.59" width="5.13" height="3.08" fill="#00ff00"/>
<rect x="468.38" y="196.59" width="5.13" height="3.08" fill="#00ff00"/>
<rect x="472.91" y="196.59" width="5.13" height="3.08" fill="#00ff00"/>
<rect x="477.45" y="196.59" width="5.13" height="3.08" fill="#00ff00"/>
<rect x="481.98" y="196.59" width="5.13" height="2.48" fill="#00ff00"/>
<rect x="486.52" y="196.59" width="4.53" height="2.48" fill="#00ff00"/>
<rect x="459.31" y="199.07" width="5.13" height="3.08" fill="#00ff00"/>
<rect x="463.84" y="199.07" width="5.13" height="2.48" fill="#00ff00"/>
<rect x="468.38" y="199.07" width="5.13" height="3.08" fill="#00ff4c"/>
<rect x="472.91" y="199.07" width="5.13" height="3.08" fill="#00ff4c"/>
<rect x="477.45" y="199.07" width="4.53" height="3.08" fill="#00ff00"/>
<rect x="459.31" y="201.54" width="4.53" height="3.08" fill="#00ff00"/>
<rect x="468.38" y="201.54" width="5.13" height="3.08" fill="#00ff4c"/>
<rect x="472.91" y="201.54" width="5.13" height="3.08" fill="#00ff4c"/>
<rect x="477.45" y="201.54" width="4.53" height="2.48" fill="#00ff4c"/>
<rect x="459.31" y="204.02" width="4.53" height="2.48" fill="#00ff00"/>
<rect x="468.38" y="204.02" width="5.13" height="2.48" fill="#00ff00"/>
<rect x="472.91" y="204.02" width="4.53" height="2.48" fill="#00ff4c"/>
<rect x="500.12" y="206.50" width="4.53" height="2.48" fill="#00ff00"/>
<rect x="468.38" y="216.41" width="4.53" height="2.48" fill="#00ffa1"/>
</g>
<rect x="438.80" y="136.10" width="104.30" height="86.70" fill="none" stroke="#808080" stroke-width="1.0"/>
<line x1="457.03" y1="222.80" x2="457.03" y2="221.50" stroke="#444" stroke-width="0.7"/>
<line x1="457.03" y1="136.10" x2="457.03" y2="137.40" stroke="#444" stroke-width="0.7"/>
<text x="457.03" y="236.30" font-size="9.7" text-anchor="middle">78</text>
<line x1="484.15" y1="222.80" x2="484.15" y2="221.50" stroke="#444" stroke-width="0.7"/>
<line x1="484.15" y1="136.10" x2="484.15" y2="137.40" stroke="#444" stroke-width="0.7"/>
<text x="484.15" y="236.30" font-size="9.7" text-anchor="middle">110</text>
<line x1="511.45" y1="222.80" x2="511.45" y2="221.50" stroke="#444" stroke-width="0.7"/>
<line x1="511.45" y1="136.10" x2="511.45" y2="137.40" stroke="#444" stroke-width="0.7"/>
<text x="511.45" y="236.30" font-size="9.7" text-anchor="middle">156</text>
<line x1="538.57" y1="222.80" x2="538.57" y2="221.50" stroke="#444" stroke-width="0.7"/>
<line x1="538.57" y1="136.10" x2="538.57" y2="137.40" stroke="#444" stroke-width="0.7"/>
<text x="537.77" y="236.30" font-size="9.7" text-anchor="middle">220</text>
<text x="434.60" y="139.35" font-size="9.7" text-anchor="end">90</text>
<line x1="438.80" y1="160.87" x2="440.10" y2="160.87" stroke="#444" stroke-width="0.7"/>
<line x1="543.10" y1="160.87" x2="541.80" y2="160.87" stroke="#444" stroke-width="0.7"/>
<text x="434.60" y="164.12" font-size="9.7" text-anchor="end">80</text>
<line x1="438.80" y1="185.64" x2="440.10" y2="185.64" stroke="#444" stroke-width="0.7"/>
<line x1="543.10" y1="185.64" x2="541.80" y2="185.64" stroke="#444" stroke-width="0.7"/>
<text x="434.60" y="188.89" font-size="9.7" text-anchor="end">70</text>
<line x1="438.80" y1="210.41" x2="440.10" y2="210.41" stroke="#444" stroke-width="0.7"/>
<line x1="543.10" y1="210.41" x2="541.80" y2="210.41" stroke="#444" stroke-width="0.7"/>
<text x="434.60" y="213.66" font-size="9.7" text-anchor="end">60</text>
<text x="509.40" y="131.90" font-size="7.5" text-anchor="middle">M07_SRP2</text>
</g>
<g>
<line x1="48.48" y1="256.95" x2="48.48" y2="343.90" stroke="#e5e5e5" stroke-width="0.7"/>
<line x1="75.52" y1="256.95" x2="75.52" y2="343.90" stroke="#e5e5e5" stroke-width="0.7"/>
<line x1="102.74" y1="256.95" x2="102.74" y2="343.90" stroke="#e5e5e5" stroke-width="0.7"/>
<line x1="129.78" y1="256.95" x2="129.78" y2="343.90" stroke="#e5e5e5" stroke-width="0.7"/>
<line x1="30.30" y1="281.79" x2="134.30" y2="281.79" stroke="#e5e5e5" stroke-width="0.7"/>
<line x1="30.30" y1="306.64" x2="134.30" y2="306.64" stroke="#e5e5e5" stroke-width="0.7"/>
<line x1="30.30" y1="331.48" x2="134.30" y2="331.48" stroke="#e5e5e5" stroke-width="0.7"/>
<g shape-rendering="auto">
<rect x="86.92" y="290.54" width="4.52" height="2.48" fill="#ffbb00"/>
<rect x="82.40" y="295.51" width="4.52" height="3.08" fill="#ffff00"/>
<rect x="77.88" y="297.99" width="5.12" height="3.08" fill="#ffbb00"/>
<rect x="82.40" y="297.99" width="4.52" height="3.08" fill="#ffff00"/>
<rect x="73.36" y="300.47" width="5.12" height="3.08" fill="#ffff00"/>
<rect x="77.88" y="300.47" width="5.12" height="3.08" fill="#ffff00"/>
<rect x="82.40" y="300.47" width="5.12" height="3.08" fill="#bfff00"/>
<rect x="86.92" y="300.47" width="5.12" height="3.08" fill="#bfff00"/>
<rect x="91.44" y="300.47" width="4.52" height="3.08" fill="#00ff00"/>
<rect x="68.83" y="302.96" width="5.12" height="3.08" fill="#bfff00"/>
<rect x="73.36" y="302.96" width="5.12" height="3.08" fill="#ffbb00"/>
<rect x="77.88" y="302.96" width="5.12" height="3.08" fill="#ffff00"/>
<rect x="82.40" y="302.96" width="5.12" height="3.08" fill="#bfff00"/>
<rect x="86.92" y="302.96" width="5.12" height="3.08" fill="#bfff00"/>
<rect x="91.44" y="302.96" width="4.52" height="3.08" fill="#00ff00"/>
<rect x="68.83" y="305.44" width="5.12" height="3.08" fill="#ffff00"/>
<rect x="73.36" y="305.44" width="5.12" height="3.08" fill="#ffbb00"/>
<rect x="77.88" y="305.44" width="5.12" height="3.08" fill="#bfff00"/>
<rect x="82.40" y="305.44" width="5.12" height="3.08" fill="#bfff00"/>
<rect x="86.92" y="305.44" width="5.12" height="3.08" fill="#bfff00"/>
<rect x="91.44" y="305.44" width="4.52" height="2.48" fill="#00ff00"/>
<rect x="68.83" y="307.93" width="5.12" height="3.08" fill="#ffff00"/>
<rect x="73.36" y="307.93" width="5.12" height="3.08" fill="#ffff00"/>
<rect x="77.88" y="307.93" width="5.12" height="3.08" fill="#bfff00"/>
<rect x="82.40" y="307.93" width="5.12" height="3.08" fill="#65ff00"/>
<rect x="86.92" y="307.93" width="4.52" height="2.48" fill="#ffff00"/>
<rect x="68.83" y="310.41" width="5.12" height="3.08" fill="#ffff00"/>
<rect x="73.36" y="310.41" width="5.12" height="3.08" fill="#bfff00"/>
<rect x="77.88" y="310.41" width="5.12" height="3.08" fill="#65ff00"/>
<rect x="82.40" y="310.41" width="4.52" height="3.08" fill="#65ff00"/>
<rect x="68.83" y="312.90" width="5.12" height="3.08" fill="#bfff00"/>
<rect x="73.36" y="312.90" width="5.12" height="3.08" fill="#bfff00"/>
<rect x="77.88" y="312.90" width="5.12" height="3.08" fill="#65ff00"/>
<rect x="82.40" y="312.90" width="4.52" height="3.08" fill="#00ff00"/>
<rect x="64.31" y="315.38" width="5.12" height="3.08" fill="#bfff00"/>
<rect x="68.83" y="315.38" width="5.12" height="3.08" fill="#65ff00"/>
<rect x="73.36" y="315.38" width="5.12" height="3.08" fill="#65ff00"/>
<rect x="77.88" y="315.38" width="5.12" height="3.08" fill="#65ff00"/>
<rect x="82.40" y="315.38" width="4.52" height="2.48" fill="#00ff00"/>
<rect x="64.31" y="317.86" width="5.12" height="3.08" fill="#bfff00"/>
<rect x="68.83" y="317.86" width="5.12" height="3.08" fill="#65ff00"/>
<rect x="73.36" y="317.86" width="5.12" height="3.08" fill="#65ff00"/>
<rect x="77.88" y="317.86" width="4.52" height="3.08" fill="#00ff00"/>
<rect x="86.92" y="317.86" width="4.52" height="2.48" fill="#00ff00"/>
<rect x="64.31" y="320.35" width="5.12" height="3.08" fill="#bfff00"/>
<rect x="68.83" y="320.35" width="5.12" height="3.08" fill="#00ff00"/>
<rect x="73.36" y="320.35" width="5.12" height="3.08" fill="#65ff00"/>
<rect x="77.88" y="320.35" width="4.52" height="3.08" fill="#00ff00"/>
<rect x="64.31" y="322.83" width="5.12" height="2.48" fill="#e1ff00"/>
<rect x="68.83" y="322.83" width="5.12" height="3.08" fill="#00ff00"/>
<rect x="73.36" y="322.83" width="5.12" height="3.08" fill="#65ff00"/>
<rect x="77.88" y="322.83" width="4.52" height="2.48" fill="#00ff00"/>
<rect x="68.83" y="325.32" width="5.12" height="3.08" fill="#00ff00"/>
<rect x="73.36" y="325.32" width="4.52" height="3.08" fill="#00ff00"/>
<rect x="68.83" y="327.80" width="5.12" height="3.08" fill="#00ff00"/>
<rect x="73.36" y="327.80" width="4.52" height="3.08" fill="#00ff00"/>
<rect x="68.83" y="330.29" width="5.12" height="3.08" fill="#00ff00"/>
<rect x="73.36" y="330.29" width="4.52" height="2.48" fill="#00ff00"/>
<rect x="68.83" y="332.77" width="4.52" height="3.08" fill="#65ff00"/>
<rect x="68.83" y="335.25" width="4.52" height="2.48" fill="#bfff00"/>
</g>
<rect x="30.30" y="256.95" width="104.00" height="86.95" fill="none" stroke="#808080" stroke-width="1.0"/>
<line x1="48.48" y1="343.90" x2="48.48" y2="342.60" stroke="#444" stroke-width="0.7"/>
<line x1="48.48" y1="256.95" x2="48.48" y2="258.25" stroke="#444" stroke-width="0.7"/>
<text x="48.48" y="358.40" font-size="9.7" text-anchor="middle">78</text>
<line x1="75.52" y1="343.90" x2="75.52" y2="342.60" stroke="#444" stroke-width="0.7"/>
<line x1="75.52" y1="256.95" x2="75.52" y2="258.25" stroke="#444" stroke-width="0.7"/>
<text x="75.52" y="358.40" font-size="9.7" text-anchor="middle">110</text>
<line x1="102.74" y1="343.90" x2="102.74" y2="342.60" stroke="#444" stroke-width="0.7"/>
<line x1="102.74" y1="256.95" x2="102.74" y2="258.25" stroke="#444" stroke-width="0.7"/>
<text x="102.74" y="358.40" font-size="9.7" text-anchor="middle">156</text>
<line x1="129.78" y1="343.90" x2="129.78" y2="342.60" stroke="#444" stroke-width="0.7"/>
<line x1="129.78" y1="256.95" x2="129.78" y2="258.25" stroke="#444" stroke-width="0.7"/>
<text x="128.98" y="358.40" font-size="9.7" text-anchor="middle">220</text>
<text x="26.10" y="260.20" font-size="9.7" text-anchor="end">90</text>
<line x1="30.30" y1="281.79" x2="31.60" y2="281.79" stroke="#444" stroke-width="0.7"/>
<line x1="134.30" y1="281.79" x2="133.00" y2="281.79" stroke="#444" stroke-width="0.7"/>
<text x="26.10" y="285.04" font-size="9.7" text-anchor="end">80</text>
<line x1="30.30" y1="306.64" x2="31.60" y2="306.64" stroke="#444" stroke-width="0.7"/>
<line x1="134.30" y1="306.64" x2="133.00" y2="306.64" stroke="#444" stroke-width="0.7"/>
<text x="26.10" y="309.89" font-size="9.7" text-anchor="end">70</text>
<line x1="30.30" y1="331.48" x2="31.60" y2="331.48" stroke="#444" stroke-width="0.7"/>
<line x1="134.30" y1="331.48" x2="133.00" y2="331.48" stroke="#444" stroke-width="0.7"/>
<text x="26.10" y="334.73" font-size="9.7" text-anchor="end">60</text>
<text x="100.90" y="253.15" font-size="7.5" text-anchor="middle">M01_SRP3</text>
<rect x="36.80" y="274.45" width="40.60" height="12.60" fill="url(#cb)" stroke="#4a3a2a" stroke-width="0.8"/>
<line x1="44.92" y1="275.95" x2="44.92" y2="283.95" stroke="#222" stroke-width="0.7"/>
<text x="44.32" y="268.45" font-size="8.2" text-anchor="middle">0.2</text>
<line x1="61.16" y1="275.95" x2="61.16" y2="283.95" stroke="#222" stroke-width="0.7"/>
<text x="60.56" y="268.45" font-size="8.2" text-anchor="middle">0.4</text>
<text x="76.80" y="268.45" font-size="8.2" text-anchor="middle">0.6</text>
<text x="45.30" y="251.80" font-size="7.7" font-style="italic">Q<tspan font-size="6.8" font-style="normal" dx="0.4" dy="5.2">ci</tspan></text>
<text transform="translate(10.20 302.02) rotate(-90)" font-size="7.35" text-anchor="middle" style="fill:#4a4a4a;stroke:none">SPL @0.3m(dB) Min 5 cycles</text>
<text x="82.30" y="369.80" font-size="7.6" text-anchor="middle" style="fill:#444;stroke:#444;stroke-width:0.12px"><tspan font-style="italic">f</tspan><tspan font-size="6" dy="4.2">o</tspan><tspan dy="-4.2"> (Hz)</tspan></text>
</g>
<g>
<line x1="184.34" y1="256.95" x2="184.34" y2="343.90" stroke="#e5e5e5" stroke-width="0.7"/>
<line x1="211.33" y1="256.95" x2="211.33" y2="343.90" stroke="#e5e5e5" stroke-width="0.7"/>
<line x1="238.50" y1="256.95" x2="238.50" y2="343.90" stroke="#e5e5e5" stroke-width="0.7"/>
<line x1="265.49" y1="256.95" x2="265.49" y2="343.90" stroke="#e5e5e5" stroke-width="0.7"/>
<line x1="166.20" y1="281.79" x2="270.00" y2="281.79" stroke="#e5e5e5" stroke-width="0.7"/>
<line x1="166.20" y1="306.64" x2="270.00" y2="306.64" stroke="#e5e5e5" stroke-width="0.7"/>
<line x1="166.20" y1="331.48" x2="270.00" y2="331.48" stroke="#e5e5e5" stroke-width="0.7"/>
<g shape-rendering="auto">
<rect x="213.69" y="275.63" width="4.51" height="3.08" fill="#ffbb00"/>
<rect x="222.71" y="275.63" width="4.51" height="3.08" fill="#ffff00"/>
<rect x="213.69" y="278.12" width="5.11" height="3.08" fill="#ffff00"/>
<rect x="218.20" y="278.12" width="5.11" height="3.08" fill="#bfff00"/>
<rect x="222.71" y="278.12" width="5.11" height="3.08" fill="#ffbb00"/>
<rect x="227.23" y="278.12" width="5.11" height="2.48" fill="#ffbb00"/>
<rect x="231.74" y="278.12" width="5.11" height="2.48" fill="#bfff00"/>
<rect x="236.25" y="278.12" width="4.51" height="3.08" fill="#ffff00"/>
<rect x="209.17" y="280.60" width="5.11" height="3.08" fill="#ffff00"/>
<rect x="213.69" y="280.60" width="5.11" height="3.08" fill="#bfff00"/>
<rect x="218.20" y="280.60" width="5.11" height="3.08" fill="#bfff00"/>
<rect x="222.71" y="280.60" width="4.51" height="3.08" fill="#ffff00"/>
<rect x="236.25" y="280.60" width="4.51" height="2.48" fill="#ffbb00"/>
<rect x="209.17" y="283.08" width="5.11" height="3.08" fill="#bfff00"/>
<rect x="213.69" y="283.08" width="5.11" height="3.08" fill="#ffff00"/>
<rect x="218.20" y="283.08" width="5.11" height="3.08" fill="#bfff00"/>
<rect x="222.71" y="283.08" width="5.11" height="3.08" fill="#ffff00"/>
<rect x="227.23" y="283.08" width="5.11" height="3.08" fill="#ffff00"/>
<rect x="231.74" y="283.08" width="4.51" height="2.48" fill="#bfff00"/>
<rect x="204.66" y="285.57" width="5.11" height="3.08" fill="#ffbb00"/>
<rect x="209.17" y="285.57" width="5.11" height="3.08" fill="#bfff00"/>
<rect x="213.69" y="285.57" width="5.11" height="3.08" fill="#ffff00"/>
<rect x="218.20" y="285.57" width="5.11" height="3.08" fill="#bfff00"/>
<rect x="222.71" y="285.57" width="5.11" height="3.08" fill="#e1ff00"/>
<rect x="227.23" y="285.57" width="4.51" height="3.08" fill="#bfff00"/>
<rect x="200.15" y="288.05" width="5.11" height="3.08" fill="#bfff00"/>
<rect x="204.66" y="288.05" width="5.11" height="3.08" fill="#bfff00"/>
<rect x="209.17" y="288.05" width="5.11" height="3.08" fill="#ffff00"/>
<rect x="213.69" y="288.05" width="5.11" height="3.08" fill="#ffff00"/>
<rect x="218.20" y="288.05" width="5.11" height="3.08" fill="#65ff00"/>
<rect x="222.71" y="288.05" width="5.11" height="3.08" fill="#e1ff00"/>
<rect x="227.23" y="288.05" width="5.11" height="3.08" fill="#65ff00"/>
<rect x="231.74" y="288.05" width="4.51" height="3.08" fill="#ffff00"/>
<rect x="200.15" y="290.54" width="5.11" height="3.08" fill="#65ff00"/>
<rect x="204.66" y="290.54" width="5.11" height="3.08" fill="#65ff00"/>
<rect x="209.17" y="290.54" width="5.11" height="3.08" fill="#ffff00"/>
<rect x="213.69" y="290.54" width="5.11" height="3.08" fill="#ffff00"/>
<rect x="218.20" y="290.54" width="5.11" height="3.08" fill="#bfff00"/>
<rect x="222.71" y="290.54" width="5.11" height="3.08" fill="#ffff00"/>
<rect x="227.23" y="290.54" width="5.11" height="3.08" fill="#bfff00"/>
<rect x="231.74" y="290.54" width="4.51" height="3.08" fill="#65ff00"/>
<rect x="200.15" y="293.02" width="5.11" height="3.08" fill="#00ff00"/>
<rect x="204.66" y="293.02" width="5.11" height="3.08" fill="#65ff00"/>
<rect x="209.17" y="293.02" width="5.11" height="3.08" fill="#e1ff00"/>
<rect x="213.69" y="293.02" width="5.11" height="3.08" fill="#ffff00"/>
<rect x="218.20" y="293.02" width="5.11" height="3.08" fill="#bfff00"/>
<rect x="222.71" y="293.02" width="5.11" height="3.08" fill="#e1ff00"/>
<rect x="227.23" y="293.02" width="5.11" height="3.08" fill="#bfff00"/>
<rect x="231.74" y="293.02" width="5.11" height="3.08" fill="#65ff00"/>
<rect x="236.25" y="293.02" width="4.51" height="2.48" fill="#bfff00"/>
<rect x="195.63" y="295.51" width="5.11" height="3.08" fill="#00ff00"/>
<rect x="200.15" y="295.51" width="5.11" height="3.08" fill="#65ff00"/>
<rect x="204.66" y="295.51" width="5.11" height="3.08" fill="#bfff00"/>
<rect x="209.17" y="295.51" width="5.11" height="3.08" fill="#bfff00"/>
<rect x="213.69" y="295.51" width="5.11" height="3.08" fill="#bfff00"/>
<rect x="218.20" y="295.51" width="5.11" height="3.08" fill="#bfff00"/>
<rect x="222.71" y="295.51" width="5.11" height="3.08" fill="#65ff00"/>
<rect x="227.23" y="295.51" width="5.11" height="3.08" fill="#bfff00"/>
<rect x="231.74" y="295.51" width="4.51" height="3.08" fill="#65ff00"/>
<rect x="195.63" y="297.99" width="5.11" height="3.08" fill="#00ff00"/>
<rect x="200.15" y="297.99" width="5.11" height="3.08" fill="#65ff00"/>
<rect x="204.66" y="297.99" width="5.11" height="3.08" fill="#bfff00"/>
<rect x="209.17" y="297.99" width="5.11" height="3.08" fill="#bfff00"/>
<rect x="213.69" y="297.99" width="5.11" height="3.08" fill="#65ff00"/>
<rect x="218.20" y="297.99" width="5.11" height="3.08" fill="#65ff00"/>
<rect x="222.71" y="297.99" width="5.11" height="3.08" fill="#00ff00"/>
<rect x="227.23" y="297.99" width="5.11" height="3.08" fill="#00ff00"/>
<rect x="231.74" y="297.99" width="5.11" height="3.08" fill="#65ff00"/>
<rect x="236.25" y="297.99" width="4.51" height="3.08" fill="#65ff00"/>
<rect x="195.63" y="300.47" width="5.11" height="3.08" fill="#00ff00"/>
<rect x="200.15" y="300.47" width="5.11" height="3.08" fill="#65ff00"/>
<rect x="204.66" y="300.47" width="5.11" height="3.08" fill="#bfff00"/>
<rect x="209.17" y="300.47" width="5.11" height="3.08" fill="#bfff00"/>
<rect x="213.69" y="300.47" width="5.11" height="3.08" fill="#00ff00"/>
<rect x="218.20" y="300.47" width="5.11" height="3.08" fill="#65ff00"/>
<rect x="222.71" y="300.47" width="5.11" height="3.08" fill="#00ff00"/>
<rect x="227.23" y="300.47" width="5.11" height="3.08" fill="#00ff00"/>
<rect x="231.74" y="300.47" width="5.11" height="3.08" fill="#bfff00"/>
<rect x="236.25" y="300.47" width="4.51" height="3.08" fill="#65ff00"/>
<rect x="195.63" y="302.96" width="5.11" height="3.08" fill="#00ff00"/>
<rect x="200.15" y="302.96" width="5.11" height="3.08" fill="#65ff00"/>
<rect x="204.66" y="302.96" width="5.11" height="3.08" fill="#bfff00"/>
<rect x="209.17" y="302.96" width="5.11" height="3.08" fill="#65ff00"/>
<rect x="213.69" y="302.96" width="5.11" height="2.48" fill="#bfff00"/>
<rect x="218.20" y="302.96" width="5.11" height="3.08" fill="#00ff00"/>
<rect x="222.71" y="302.96" width="5.11" height="3.08" fill="#00ff00"/>
<rect x="227.23" y="302.96" width="5.11" height="2.48" fill="#00ff00"/>
<rect x="231.74" y="302.96" width="5.11" height="3.08" fill="#00ff00"/>
<rect x="236.25" y="302.96" width="4.51" height="3.08" fill="#00ff00"/>
<rect x="195.63" y="305.44" width="5.11" height="3.08" fill="#00ff00"/>
<rect x="200.15" y="305.44" width="5.11" height="3.08" fill="#00ff00"/>
<rect x="204.66" y="305.44" width="5.11" height="3.08" fill="#65ff00"/>
<rect x="209.17" y="305.44" width="4.51" height="3.08" fill="#00ff00"/>
<rect x="218.20" y="305.44" width="5.11" height="2.48" fill="#00ff00"/>
<rect x="222.71" y="305.44" width="4.51" height="3.08" fill="#00ff00"/>
<rect x="231.74" y="305.44" width="5.11" height="2.48" fill="#00ff00"/>
<rect x="236.25" y="305.44" width="4.51" height="2.48" fill="#00ff00"/>
<rect x="195.63" y="307.93" width="5.11" height="2.48" fill="#00ff00"/>
<rect x="200.15" y="307.93" width="5.11" height="3.08" fill="#00ff00"/>
<rect x="204.66" y="307.93" width="5.11" height="3.08" fill="#65ff00"/>
<rect x="209.17" y="307.93" width="4.51" height="2.48" fill="#00ff00"/>
<rect x="222.71" y="307.93" width="4.51" height="2.48" fill="#00ff00"/>
<rect x="200.15" y="310.41" width="5.11" height="3.08" fill="#00ff00"/>
<rect x="204.66" y="310.41" width="4.51" height="2.48" fill="#65ff00"/>
<rect x="213.69" y="310.41" width="4.51" height="3.08" fill="#00ff00"/>
<rect x="195.63" y="312.90" width="5.11" height="2.48" fill="#00ff00"/>
<rect x="200.15" y="312.90" width="4.51" height="3.08" fill="#00ff00"/>
<rect x="213.69" y="312.90" width="4.51" height="2.48" fill="#00ff4c"/>
<rect x="200.15" y="315.38" width="5.11" height="2.48" fill="#00ff00"/>
<rect x="204.66" y="315.38" width="4.51" height="2.48" fill="#65ff00"/>
<rect x="231.74" y="322.83" width="4.51" height="2.48" fill="#00ffff"/>
</g>
<rect x="166.20" y="256.95" width="103.80" height="86.95" fill="none" stroke="#808080" stroke-width="1.0"/>
<line x1="184.34" y1="343.90" x2="184.34" y2="342.60" stroke="#444" stroke-width="0.7"/>
<line x1="184.34" y1="256.95" x2="184.34" y2="258.25" stroke="#444" stroke-width="0.7"/>
<text x="184.34" y="358.40" font-size="9.7" text-anchor="middle">78</text>
<line x1="211.33" y1="343.90" x2="211.33" y2="342.60" stroke="#444" stroke-width="0.7"/>
<line x1="211.33" y1="256.95" x2="211.33" y2="258.25" stroke="#444" stroke-width="0.7"/>
<text x="211.33" y="358.40" font-size="9.7" text-anchor="middle">110</text>
<line x1="238.50" y1="343.90" x2="238.50" y2="342.60" stroke="#444" stroke-width="0.7"/>
<line x1="238.50" y1="256.95" x2="238.50" y2="258.25" stroke="#444" stroke-width="0.7"/>
<text x="238.50" y="358.40" font-size="9.7" text-anchor="middle">156</text>
<line x1="265.49" y1="343.90" x2="265.49" y2="342.60" stroke="#444" stroke-width="0.7"/>
<line x1="265.49" y1="256.95" x2="265.49" y2="258.25" stroke="#444" stroke-width="0.7"/>
<text x="264.69" y="358.40" font-size="9.7" text-anchor="middle">220</text>
<text x="162.00" y="260.20" font-size="9.7" text-anchor="end">90</text>
<line x1="166.20" y1="281.79" x2="167.50" y2="281.79" stroke="#444" stroke-width="0.7"/>
<line x1="270.00" y1="281.79" x2="268.70" y2="281.79" stroke="#444" stroke-width="0.7"/>
<text x="162.00" y="285.04" font-size="9.7" text-anchor="end">80</text>
<line x1="166.20" y1="306.64" x2="167.50" y2="306.64" stroke="#444" stroke-width="0.7"/>
<line x1="270.00" y1="306.64" x2="268.70" y2="306.64" stroke="#444" stroke-width="0.7"/>
<text x="162.00" y="309.89" font-size="9.7" text-anchor="end">70</text>
<line x1="166.20" y1="331.48" x2="167.50" y2="331.48" stroke="#444" stroke-width="0.7"/>
<line x1="270.00" y1="331.48" x2="268.70" y2="331.48" stroke="#444" stroke-width="0.7"/>
<text x="162.00" y="334.73" font-size="9.7" text-anchor="end">60</text>
<text x="236.80" y="253.15" font-size="7.5" text-anchor="middle">M03_SRP3</text>
<text x="218.10" y="369.80" font-size="7.6" text-anchor="middle" style="fill:#444;stroke:#444;stroke-width:0.12px"><tspan font-style="italic">f</tspan><tspan font-size="6" dy="4.2">o</tspan><tspan dy="-4.2"> (Hz)</tspan></text>
</g>
<g>
<line x1="320.74" y1="256.95" x2="320.74" y2="343.90" stroke="#e5e5e5" stroke-width="0.7"/>
<line x1="347.73" y1="256.95" x2="347.73" y2="343.90" stroke="#e5e5e5" stroke-width="0.7"/>
<line x1="374.90" y1="256.95" x2="374.90" y2="343.90" stroke="#e5e5e5" stroke-width="0.7"/>
<line x1="401.89" y1="256.95" x2="401.89" y2="343.90" stroke="#e5e5e5" stroke-width="0.7"/>
<line x1="302.60" y1="281.79" x2="406.40" y2="281.79" stroke="#e5e5e5" stroke-width="0.7"/>
<line x1="302.60" y1="306.64" x2="406.40" y2="306.64" stroke="#e5e5e5" stroke-width="0.7"/>
<line x1="302.60" y1="331.48" x2="406.40" y2="331.48" stroke="#e5e5e5" stroke-width="0.7"/>
<g shape-rendering="auto">
<rect x="359.11" y="265.69" width="4.51" height="3.08" fill="#00ff00"/>
<rect x="359.11" y="268.18" width="4.51" height="2.48" fill="#00ff00"/>
<rect x="372.65" y="268.18" width="4.51" height="2.48" fill="#00ff00"/>
<rect x="350.09" y="270.66" width="4.51" height="3.08" fill="#ffbb00"/>
<rect x="377.17" y="270.66" width="4.51" height="3.08" fill="#00ff00"/>
<rect x="345.57" y="273.15" width="5.11" height="3.08" fill="#ffbb00"/>
<rect x="350.09" y="273.15" width="5.11" height="2.48" fill="#ffbb00"/>
<rect x="354.60" y="273.15" width="5.11" height="3.08" fill="#ffbb00"/>
<rect x="359.11" y="273.15" width="5.11" height="3.08" fill="#65ff00"/>
<rect x="363.63" y="273.15" width="5.11" height="3.08" fill="#65ff00"/>
<rect x="368.14" y="273.15" width="5.11" height="3.08" fill="#65ff00"/>
<rect x="372.65" y="273.15" width="5.11" height="2.48" fill="#00ff00"/>
<rect x="377.17" y="273.15" width="4.51" height="3.08" fill="#00ff00"/>
<rect x="341.06" y="275.63" width="5.11" height="3.08" fill="#ffbb00"/>
<rect x="345.57" y="275.63" width="4.51" height="3.08" fill="#ffbb00"/>
<rect x="354.60" y="275.63" width="5.11" height="3.08" fill="#65ff00"/>
<rect x="359.11" y="275.63" width="5.11" height="3.08" fill="#bfff00"/>
<rect x="363.63" y="275.63" width="5.11" height="3.08" fill="#bfff00"/>
<rect x="368.14" y="275.63" width="4.51" height="2.48" fill="#00ff00"/>
<rect x="377.17" y="275.63" width="4.51" height="3.08" fill="#65ff00"/>
<rect x="336.55" y="278.12" width="5.11" height="3.08" fill="#ff7700"/>
<rect x="341.06" y="278.12" width="5.11" height="3.08" fill="#ffbb00"/>
<rect x="345.57" y="278.12" width="5.11" height="3.08" fill="#ffbb00"/>
<rect x="350.09" y="278.12" width="5.11" height="3.08" fill="#65ff00"/>
<rect x="354.60" y="278.12" width="5.11" height="3.08" fill="#bfff00"/>
<rect x="359.11" y="278.12" width="5.11" height="3.08" fill="#ffff00"/>
<rect x="363.63" y="278.12" width="4.51" height="3.08" fill="#bfff00"/>
<rect x="377.17" y="278.12" width="4.51" height="2.48" fill="#65ff00"/>
<rect x="336.55" y="280.60" width="5.11" height="3.08" fill="#ff7700"/>
<rect x="341.06" y="280.60" width="5.11" height="3.08" fill="#ffbb00"/>
<rect x="345.57" y="280.60" width="5.11" height="3.08" fill="#ffbb00"/>
<rect x="350.09" y="280.60" width="5.11" height="3.08" fill="#65ff00"/>
<rect x="354.60" y="280.60" width="5.11" height="3.08" fill="#bfff00"/>
<rect x="359.11" y="280.60" width="5.11" height="3.08" fill="#65ff00"/>
<rect x="363.63" y="280.60" width="5.11" height="3.08" fill="#00ff00"/>
<rect x="368.14" y="280.60" width="4.51" height="3.08" fill="#00ff00"/>
<rect x="332.03" y="283.08" width="5.11" height="3.08" fill="#ff7700"/>
<rect x="336.55" y="283.08" width="5.11" height="3.08" fill="#ff7700"/>
<rect x="341.06" y="283.08" width="5.11" height="3.08" fill="#ffbb00"/>
<rect x="345.57" y="283.08" width="5.11" height="3.08" fill="#ffff00"/>
<rect x="350.09" y="283.08" width="5.11" height="3.08" fill="#65ff00"/>
<rect x="354.60" y="283.08" width="5.11" height="3.08" fill="#bfff00"/>
<rect x="359.11" y="283.08" width="5.11" height="3.08" fill="#00ff00"/>
<rect x="363.63" y="283.08" width="5.11" height="3.08" fill="#00ff00"/>
<rect x="368.14" y="283.08" width="4.51" height="2.48" fill="#00ff00"/>
<rect x="327.52" y="285.57" width="5.11" height="3.08" fill="#ff7700"/>
<rect x="332.03" y="285.57" width="5.11" height="3.08" fill="#ff7700"/>
<rect x="336.55" y="285.57" width="5.11" height="3.08" fill="#ffbb00"/>
<rect x="341.06" y="285.57" width="5.11" height="3.08" fill="#ffff00"/>
<rect x="345.57" y="285.57" width="5.11" height="3.08" fill="#bfff00"/>
<rect x="350.09" y="285.57" width="5.11" height="3.08" fill="#65ff00"/>
<rect x="354.60" y="285.57" width="5.11" height="3.08" fill="#65ff00"/>
<rect x="359.11" y="285.57" width="5.11" height="3.08" fill="#00ff00"/>
<rect x="363.63" y="285.57" width="4.51" height="3.08" fill="#65ff00"/>
<rect x="372.65" y="285.57" width="4.51" height="2.48" fill="#00ff00"/>
<rect x="327.52" y="288.05" width="5.11" height="3.08" fill="#ff7700"/>
<rect x="332.03" y="288.05" width="5.11" height="3.08" fill="#ff7700"/>
<rect x="336.55" y="288.05" width="5.11" height="3.08" fill="#ffbb00"/>
<rect x="341.06" y="288.05" width="5.11" height="3.08" fill="#ffff00"/>
<rect x="345.57" y="288.05" width="5.11" height="3.08" fill="#bfff00"/>
<rect x="350.09" y="288.05" width="5.11" height="3.08" fill="#65ff00"/>
<rect x="354.60" y="288.05" width="5.11" height="3.08" fill="#00ff00"/>
<rect x="359.11" y="288.05" width="5.11" height="2.48" fill="#00ff00"/>
<rect x="363.63" y="288.05" width="4.51" height="3.08" fill="#65ff00"/>
<rect x="327.52" y="290.54" width="5.11" height="3.08" fill="#ff3b00"/>
<rect x="332.03" y="290.54" width="5.11" height="3.08" fill="#ff7700"/>
<rect x="336.55" y="290.54" width="5.11" height="3.08" fill="#ffbb00"/>
<rect x="341.06" y="290.54" width="5.11" height="3.08" fill="#bfff00"/>
<rect x="345.57" y="290.54" width="5.11" height="3.08" fill="#ffff00"/>
<rect x="350.09" y="290.54" width="5.11" height="2.48" fill="#65ff00"/>
<rect x="354.60" y="290.54" width="4.51" height="2.48" fill="#00ff00"/>
<rect x="363.63" y="290.54" width="5.11" height="2.48" fill="#00ff00"/>
<rect x="368.14" y="290.54" width="4.51" height="2.48" fill="#00ff00"/>
<rect x="327.52" y="293.02" width="5.11" height="3.08" fill="#ff7700"/>
<rect x="332.03" y="293.02" width="5.11" height="3.08" fill="#ff7700"/>
<rect x="336.55" y="293.02" width="5.11" height="3.08" fill="#ffbb00"/>
<rect x="341.06" y="293.02" width="5.11" height="3.08" fill="#bfff00"/>
<rect x="345.57" y="293.02" width="4.51" height="3.08" fill="#ffbb00"/>
<rect x="359.11" y="293.02" width="4.51" height="2.48" fill="#65ff00"/>
<rect x="327.52" y="295.51" width="5.11" height="3.08" fill="#ff7700"/>
<rect x="332.03" y="295.51" width="5.11" height="3.08" fill="#ffbb00"/>
<rect x="336.55" y="295.51" width="5.11" height="3.08" fill="#ff7700"/>
<rect x="341.06" y="295.51" width="5.11" height="3.08" fill="#ffff00"/>
<rect x="345.57" y="295.51" width="4.51" height="3.08" fill="#ffbb00"/>
<rect x="323.01" y="297.99" width="5.11" height="2.48" fill="#ff7700"/>
<rect x="327.52" y="297.99" width="5.11" height="3.08" fill="#ff7700"/>
<rect x="332.03" y="297.99" width="5.11" height="3.08" fill="#ff7700"/>
<rect x="336.55" y="297.99" width="5.11" height="3.08" fill="#ff7700"/>
<rect x="341.06" y="297.99" width="5.11" height="3.08" fill="#ffff00"/>
<rect x="345.57" y="297.99" width="4.51" height="2.48" fill="#ffff00"/>
<rect x="359.11" y="297.99" width="4.51" height="3.08" fill="#00ff00"/>
<rect x="327.52" y="300.47" width="5.11" height="3.08" fill="#ffbb00"/>
<rect x="332.03" y="300.47" width="5.11" height="3.08" fill="#ff7700"/>
<rect x="336.55" y="300.47" width="5.11" height="3.08" fill="#ff7700"/>
<rect x="341.06" y="300.47" width="4.51" height="2.48" fill="#ff7700"/>
<rect x="359.11" y="300.47" width="4.51" height="2.48" fill="#00ff00"/>
<rect x="323.01" y="302.96" width="5.11" height="2.48" fill="#ffbb00"/>
<rect x="327.52" y="302.96" width="5.11" height="3.08" fill="#ffbb00"/>
<rect x="332.03" y="302.96" width="5.11" height="3.08" fill="#ffbb00"/>
<rect x="336.55" y="302.96" width="4.51" height="3.08" fill="#ff7700"/>
<rect x="327.52" y="305.44" width="5.11" height="3.08" fill="#ffbb00"/>
<rect x="332.03" y="305.44" width="5.11" height="3.08" fill="#ff7700"/>
<rect x="336.55" y="305.44" width="4.51" height="2.48" fill="#ff7700"/>
<rect x="327.52" y="307.93" width="5.11" height="3.08" fill="#ffbb00"/>
<rect x="332.03" y="307.93" width="4.51" height="2.48" fill="#ff3b00"/>
<rect x="327.52" y="310.41" width="4.51" height="3.08" fill="#ff0000"/>
<rect x="345.57" y="310.41" width="4.51" height="2.48" fill="#bfff00"/>
<rect x="327.52" y="312.90" width="4.51" height="3.08" fill="#ff3b00"/>
<rect x="327.52" y="315.38" width="4.51" height="3.08" fill="#ff0000"/>
<rect x="327.52" y="317.86" width="4.51" height="2.48" fill="#ff0000"/>
<rect x="332.03" y="322.83" width="4.51" height="2.48" fill="#ffbb00"/>
</g>
<rect x="302.60" y="256.95" width="103.80" height="86.95" fill="none" stroke="#808080" stroke-width="1.0"/>
<line x1="320.74" y1="343.90" x2="320.74" y2="342.60" stroke="#444" stroke-width="0.7"/>
<line x1="320.74" y1="256.95" x2="320.74" y2="258.25" stroke="#444" stroke-width="0.7"/>
<text x="320.74" y="358.40" font-size="9.7" text-anchor="middle">78</text>
<line x1="347.73" y1="343.90" x2="347.73" y2="342.60" stroke="#444" stroke-width="0.7"/>
<line x1="347.73" y1="256.95" x2="347.73" y2="258.25" stroke="#444" stroke-width="0.7"/>
<text x="347.73" y="358.40" font-size="9.7" text-anchor="middle">110</text>
<line x1="374.90" y1="343.90" x2="374.90" y2="342.60" stroke="#444" stroke-width="0.7"/>
<line x1="374.90" y1="256.95" x2="374.90" y2="258.25" stroke="#444" stroke-width="0.7"/>
<text x="374.90" y="358.40" font-size="9.7" text-anchor="middle">156</text>
<line x1="401.89" y1="343.90" x2="401.89" y2="342.60" stroke="#444" stroke-width="0.7"/>
<line x1="401.89" y1="256.95" x2="401.89" y2="258.25" stroke="#444" stroke-width="0.7"/>
<text x="401.09" y="358.40" font-size="9.7" text-anchor="middle">220</text>
<text x="298.40" y="260.20" font-size="9.7" text-anchor="end">90</text>
<line x1="302.60" y1="281.79" x2="303.90" y2="281.79" stroke="#444" stroke-width="0.7"/>
<line x1="406.40" y1="281.79" x2="405.10" y2="281.79" stroke="#444" stroke-width="0.7"/>
<text x="298.40" y="285.04" font-size="9.7" text-anchor="end">80</text>
<line x1="302.60" y1="306.64" x2="303.90" y2="306.64" stroke="#444" stroke-width="0.7"/>
<line x1="406.40" y1="306.64" x2="405.10" y2="306.64" stroke="#444" stroke-width="0.7"/>
<text x="298.40" y="309.89" font-size="9.7" text-anchor="end">70</text>
<line x1="302.60" y1="331.48" x2="303.90" y2="331.48" stroke="#444" stroke-width="0.7"/>
<line x1="406.40" y1="331.48" x2="405.10" y2="331.48" stroke="#444" stroke-width="0.7"/>
<text x="298.40" y="334.73" font-size="9.7" text-anchor="end">60</text>
<text x="373.20" y="253.15" font-size="7.5" text-anchor="middle">M05_SRP3</text>
<text x="354.50" y="369.80" font-size="7.6" text-anchor="middle" style="fill:#444;stroke:#444;stroke-width:0.12px"><tspan font-style="italic">f</tspan><tspan font-size="6" dy="4.2">o</tspan><tspan dy="-4.2"> (Hz)</tspan></text>
</g>
<g>
<line x1="457.03" y1="256.95" x2="457.03" y2="343.90" stroke="#e5e5e5" stroke-width="0.7"/>
<line x1="484.15" y1="256.95" x2="484.15" y2="343.90" stroke="#e5e5e5" stroke-width="0.7"/>
<line x1="511.45" y1="256.95" x2="511.45" y2="343.90" stroke="#e5e5e5" stroke-width="0.7"/>
<line x1="538.57" y1="256.95" x2="538.57" y2="343.90" stroke="#e5e5e5" stroke-width="0.7"/>
<line x1="438.80" y1="281.79" x2="543.10" y2="281.79" stroke="#e5e5e5" stroke-width="0.7"/>
<line x1="438.80" y1="306.64" x2="543.10" y2="306.64" stroke="#e5e5e5" stroke-width="0.7"/>
<line x1="438.80" y1="331.48" x2="543.10" y2="331.48" stroke="#e5e5e5" stroke-width="0.7"/>
<g shape-rendering="auto">
<rect x="500.12" y="285.57" width="5.13" height="3.08" fill="#00ff00"/>
<rect x="504.65" y="285.57" width="5.13" height="3.08" fill="#00ff00"/>
<rect x="509.19" y="285.57" width="4.53" height="2.48" fill="#00ff00"/>
<rect x="491.05" y="288.05" width="5.13" height="3.08" fill="#00ff00"/>
<rect x="495.58" y="288.05" width="5.13" height="3.08" fill="#00ff00"/>
<rect x="500.12" y="288.05" width="5.13" height="3.08" fill="#00ff00"/>
<rect x="504.65" y="288.05" width="4.53" height="2.48" fill="#00ff00"/>
<rect x="491.05" y="290.54" width="5.13" height="3.08" fill="#00ff00"/>
<rect x="495.58" y="290.54" width="5.13" height="3.08" fill="#00ff00"/>
<rect x="500.12" y="290.54" width="4.53" height="3.08" fill="#00ff00"/>
<rect x="509.19" y="290.54" width="5.13" height="2.48" fill="#00ff00"/>
<rect x="513.72" y="290.54" width="5.13" height="2.48" fill="#00ff00"/>
<rect x="518.26" y="290.54" width="4.53" height="2.48" fill="#00ff00"/>
<rect x="481.98" y="293.02" width="5.13" height="3.08" fill="#00ff00"/>
<rect x="486.52" y="293.02" width="5.13" height="3.08" fill="#00ff00"/>
<rect x="491.05" y="293.02" width="5.13" height="3.08" fill="#00ff00"/>
<rect x="495.58" y="293.02" width="5.13" height="3.08" fill="#00ff00"/>
<rect x="500.12" y="293.02" width="5.13" height="3.08" fill="#00ff00"/>
<rect x="504.65" y="293.02" width="4.53" height="3.08" fill="#00ff00"/>
<rect x="481.98" y="295.51" width="5.13" height="3.08" fill="#00ff00"/>
<rect x="486.52" y="295.51" width="5.13" height="3.08" fill="#00ff00"/>
<rect x="491.05" y="295.51" width="5.13" height="3.08" fill="#00ff00"/>
<rect x="495.58" y="295.51" width="5.13" height="3.08" fill="#00ff00"/>
<rect x="500.12" y="295.51" width="5.13" height="3.08" fill="#00ff00"/>
<rect x="504.65" y="295.51" width="5.13" height="3.08" fill="#00ff00"/>
<rect x="509.19" y="295.51" width="5.13" height="2.48" fill="#00ff00"/>
<rect x="513.72" y="295.51" width="5.13" height="2.48" fill="#00ff00"/>
<rect x="518.26" y="295.51" width="4.53" height="2.48" fill="#00ff00"/>
<rect x="472.91" y="297.99" width="5.13" height="3.08" fill="#00ff00"/>
<rect x="477.45" y="297.99" width="5.13" height="3.08" fill="#00ff00"/>
<rect x="481.98" y="297.99" width="5.13" height="3.08" fill="#00ff00"/>
<rect x="486.52" y="297.99" width="5.13" height="3.08" fill="#00ff00"/>
<rect x="491.05" y="297.99" width="5.13" height="3.08" fill="#00ff00"/>
<rect x="495.58" y="297.99" width="5.13" height="3.08" fill="#00ff00"/>
<rect x="500.12" y="297.99" width="5.13" height="3.08" fill="#00ff00"/>
<rect x="504.65" y="297.99" width="4.53" height="3.08" fill="#00ff00"/>
<rect x="536.40" y="297.99" width="4.53" height="3.08" fill="#65ff00"/>
<rect x="472.91" y="300.47" width="5.13" height="3.08" fill="#00ff00"/>
<rect x="477.45" y="300.47" width="5.13" height="3.08" fill="#00ff00"/>
<rect x="481.98" y="300.47" width="5.13" height="3.08" fill="#00ff00"/>
<rect x="486.52" y="300.47" width="5.13" height="3.08" fill="#00ff00"/>
<rect x="491.05" y="300.47" width="5.13" height="3.08" fill="#00ff00"/>
<rect x="495.58" y="300.47" width="5.13" height="3.08" fill="#00ff00"/>
<rect x="500.12" y="300.47" width="5.13" height="3.08" fill="#00ff00"/>
<rect x="504.65" y="300.47" width="4.53" height="3.08" fill="#00ff00"/>
<rect x="536.40" y="300.47" width="4.53" height="2.48" fill="#00ff00"/>
<rect x="468.38" y="302.96" width="5.13" height="3.08" fill="#00ff00"/>
<rect x="472.91" y="302.96" width="5.13" height="3.08" fill="#00ff00"/>
<rect x="477.45" y="302.96" width="5.13" height="3.08" fill="#00ff00"/>
<rect x="481.98" y="302.96" width="5.13" height="3.08" fill="#00ff00"/>
<rect x="486.52" y="302.96" width="5.13" height="3.08" fill="#00ff00"/>
<rect x="491.05" y="302.96" width="5.13" height="3.08" fill="#00ff00"/>
<rect x="495.58" y="302.96" width="5.13" height="3.08" fill="#00ff00"/>
<rect x="500.12" y="302.96" width="5.13" height="3.08" fill="#00ff00"/>
<rect x="504.65" y="302.96" width="5.13" height="2.48" fill="#00ff00"/>
<rect x="509.19" y="302.96" width="4.53" height="3.08" fill="#00ff00"/>
<rect x="468.38" y="305.44" width="5.13" height="3.08" fill="#00ff00"/>
<rect x="472.91" y="305.44" width="5.13" height="3.08" fill="#00ff00"/>
<rect x="477.45" y="305.44" width="5.13" height="3.08" fill="#00ff00"/>
<rect x="481.98" y="305.44" width="5.13" height="3.08" fill="#00ff00"/>
<rect x="486.52" y="305.44" width="5.13" height="3.08" fill="#00ff00"/>
<rect x="491.05" y="305.44" width="5.13" height="3.08" fill="#00ff00"/>
<rect x="495.58" y="305.44" width="5.13" height="3.08" fill="#00ff00"/>
<rect x="500.12" y="305.44" width="4.53" height="3.08" fill="#00ff00"/>
<rect x="509.19" y="305.44" width="5.13" height="3.08" fill="#00ff00"/>
<rect x="513.72" y="305.44" width="4.53" height="2.48" fill="#00ff00"/>
<rect x="463.84" y="307.93" width="5.13" height="3.08" fill="#00ff00"/>
<rect x="468.38" y="307.93" width="5.13" height="3.08" fill="#00ff00"/>
<rect x="472.91" y="307.93" width="5.13" height="3.08" fill="#00ff00"/>
<rect x="477.45" y="307.93" width="5.13" height="3.08" fill="#00ff00"/>
<rect x="481.98" y="307.93" width="5.13" height="3.08" fill="#00ff00"/>
<rect x="486.52" y="307.93" width="5.13" height="3.08" fill="#00ff00"/>
<rect x="491.05" y="307.93" width="5.13" height="2.48" fill="#00ff00"/>
<rect x="495.58" y="307.93" width="5.13" height="3.08" fill="#00ff00"/>
<rect x="500.12" y="307.93" width="5.13" height="3.08" fill="#00ff00"/>
<rect x="504.65" y="307.93" width="5.13" height="2.48" fill="#00ff00"/>
<rect x="509.19" y="307.93" width="4.53" height="2.48" fill="#00ff00"/>
<rect x="459.31" y="310.41" width="5.13" height="3.08" fill="#00ff00"/>
<rect x="463.84" y="310.41" width="5.13" height="3.08" fill="#00ff00"/>
<rect x="468.38" y="310.41" width="5.13" height="3.08" fill="#00ff00"/>
<rect x="472.91" y="310.41" width="5.13" height="3.08" fill="#00ff00"/>
<rect x="477.45" y="310.41" width="5.13" height="3.08" fill="#00ff00"/>
<rect x="481.98" y="310.41" width="5.13" height="2.48" fill="#00ff00"/>
<rect x="486.52" y="310.41" width="4.53" height="2.48" fill="#00ff00"/>
<rect x="495.58" y="310.41" width="5.13" height="2.48" fill="#00ff00"/>
<rect x="500.12" y="310.41" width="4.53" height="2.48" fill="#00ff00"/>
<rect x="454.77" y="312.90" width="5.13" height="2.48" fill="#00ff00"/>
<rect x="459.31" y="312.90" width="5.13" height="3.08" fill="#00ff00"/>
<rect x="463.84" y="312.90" width="5.13" height="3.08" fill="#00ff00"/>
<rect x="468.38" y="312.90" width="5.13" height="3.08" fill="#00ff00"/>
<rect x="472.91" y="312.90" width="5.13" height="3.08" fill="#00ff00"/>
<rect x="477.45" y="312.90" width="4.53" height="3.08" fill="#00ff00"/>
<rect x="491.05" y="312.90" width="4.53" height="2.48" fill="#00ff00"/>
<rect x="459.31" y="315.38" width="5.13" height="3.08" fill="#00ff00"/>
<rect x="463.84" y="315.38" width="5.13" height="3.08" fill="#00ff00"/>
<rect x="468.38" y="315.38" width="5.13" height="3.08" fill="#00ff00"/>
<rect x="472.91" y="315.38" width="5.13" height="3.08" fill="#00ff00"/>
<rect x="477.45" y="315.38" width="4.53" height="3.08" fill="#00ff00"/>
<rect x="454.77" y="317.86" width="5.13" height="2.48" fill="#00ff00"/>
<rect x="459.31" y="317.86" width="5.13" height="2.48" fill="#00ff00"/>
<rect x="463.84" y="317.86" width="5.13" height="3.08" fill="#00ff00"/>
<rect x="468.38" y="317.86" width="5.13" height="3.08" fill="#00ff00"/>
<rect x="472.91" y="317.86" width="5.13" height="3.08" fill="#00ff00"/>
<rect x="477.45" y="317.86" width="5.13" height="3.08" fill="#00ff00"/>
<rect x="481.98" y="317.86" width="5.13" height="2.48" fill="#00ff4c"/>
<rect x="486.52" y="317.86" width="4.53" height="2.48" fill="#00ff00"/>
<rect x="463.84" y="320.35" width="5.13" height="2.48" fill="#00ff00"/>
<rect x="468.38" y="320.35" width="5.13" height="2.48" fill="#00ff00"/>
<rect x="472.91" y="320.35" width="5.13" height="3.08" fill="#00ff00"/>
<rect x="477.45" y="320.35" width="4.53" height="2.48" fill="#00ff00"/>
<rect x="472.91" y="322.83" width="4.53" height="3.08" fill="#00ff4c"/>
<rect x="481.98" y="322.83" width="5.13" height="2.48" fill="#00ff00"/>
<rect x="486.52" y="322.83" width="4.53" height="2.48" fill="#00ff00"/>
<rect x="472.91" y="325.32" width="4.53" height="2.48" fill="#00ff4c"/>
<rect x="504.65" y="337.74" width="4.53" height="2.48" fill="#00ffff"/>
</g>
<rect x="438.80" y="256.95" width="104.30" height="86.95" fill="none" stroke="#808080" stroke-width="1.0"/>
<line x1="457.03" y1="343.90" x2="457.03" y2="342.60" stroke="#444" stroke-width="0.7"/>
<line x1="457.03" y1="256.95" x2="457.03" y2="258.25" stroke="#444" stroke-width="0.7"/>
<text x="457.03" y="358.40" font-size="9.7" text-anchor="middle">78</text>
<line x1="484.15" y1="343.90" x2="484.15" y2="342.60" stroke="#444" stroke-width="0.7"/>
<line x1="484.15" y1="256.95" x2="484.15" y2="258.25" stroke="#444" stroke-width="0.7"/>
<text x="484.15" y="358.40" font-size="9.7" text-anchor="middle">110</text>
<line x1="511.45" y1="343.90" x2="511.45" y2="342.60" stroke="#444" stroke-width="0.7"/>
<line x1="511.45" y1="256.95" x2="511.45" y2="258.25" stroke="#444" stroke-width="0.7"/>
<text x="511.45" y="358.40" font-size="9.7" text-anchor="middle">156</text>
<line x1="538.57" y1="343.90" x2="538.57" y2="342.60" stroke="#444" stroke-width="0.7"/>
<line x1="538.57" y1="256.95" x2="538.57" y2="258.25" stroke="#444" stroke-width="0.7"/>
<text x="537.77" y="358.40" font-size="9.7" text-anchor="middle">220</text>
<text x="434.60" y="260.20" font-size="9.7" text-anchor="end">90</text>
<line x1="438.80" y1="281.79" x2="440.10" y2="281.79" stroke="#444" stroke-width="0.7"/>
<line x1="543.10" y1="281.79" x2="541.80" y2="281.79" stroke="#444" stroke-width="0.7"/>
<text x="434.60" y="285.04" font-size="9.7" text-anchor="end">80</text>
<line x1="438.80" y1="306.64" x2="440.10" y2="306.64" stroke="#444" stroke-width="0.7"/>
<line x1="543.10" y1="306.64" x2="541.80" y2="306.64" stroke="#444" stroke-width="0.7"/>
<text x="434.60" y="309.89" font-size="9.7" text-anchor="end">70</text>
<line x1="438.80" y1="331.48" x2="440.10" y2="331.48" stroke="#444" stroke-width="0.7"/>
<line x1="543.10" y1="331.48" x2="541.80" y2="331.48" stroke="#444" stroke-width="0.7"/>
<text x="434.60" y="334.73" font-size="9.7" text-anchor="end">60</text>
<text x="509.40" y="253.15" font-size="7.5" text-anchor="middle">M07_SRP3</text>
<text x="490.95" y="369.80" font-size="7.6" text-anchor="middle" style="fill:#444;stroke:#444;stroke-width:0.12px"><tspan font-style="italic">f</tspan><tspan font-size="6" dy="4.2">o</tspan><tspan dy="-4.2"> (Hz)</tspan></text>
</g>
</svg></body></html>
